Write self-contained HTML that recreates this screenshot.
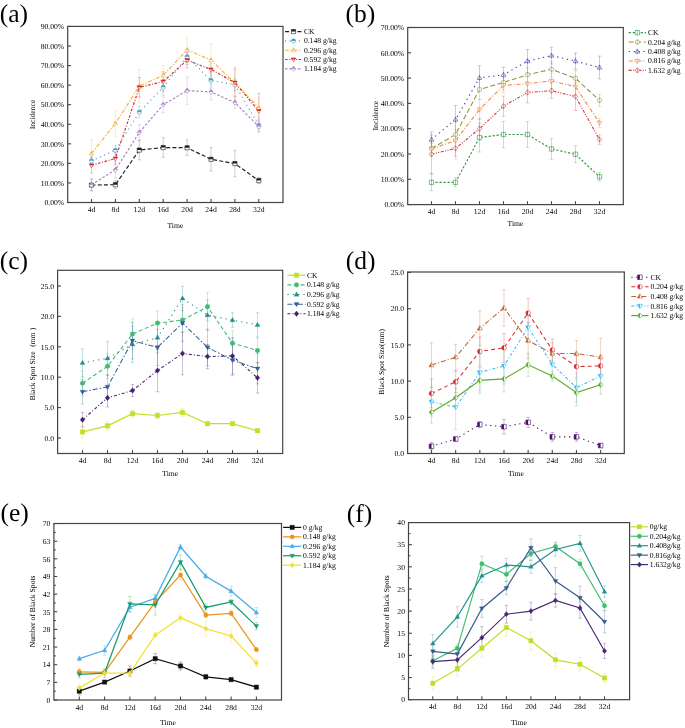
<!DOCTYPE html>
<html><head><meta charset="utf-8"><style>
html,body{margin:0;padding:0;background:#fff;}
svg{display:block;will-change:transform;}
</style></head><body>
<svg width="685" height="728" viewBox="0 0 685 728" font-family='"Liberation Serif", serif' font-size="7.65" fill="#000" text-rendering="geometricPrecision">
<defs>
<clipPath id="clipTop" clipPathUnits="userSpaceOnUse"><rect x="-10" y="-10" width="20" height="10"/></clipPath>
<clipPath id="clipLeft" clipPathUnits="userSpaceOnUse"><rect x="-10" y="-10" width="10" height="20"/></clipPath>
</defs>
<rect width="685" height="728" fill="#fff"/>
<g><path d="M91.50,179.22V190.96M89.90,179.22H93.10M89.90,190.96H93.10" stroke="#555" stroke-width="0.5" fill="none" opacity="0.55"/>
<path d="M115.40,180.79V188.61M113.80,180.79H117.00M113.80,188.61H117.00" stroke="#555" stroke-width="0.5" fill="none" opacity="0.55"/>
<path d="M139.30,140.30V159.86M137.70,140.30H140.90M137.70,159.86H140.90" stroke="#555" stroke-width="0.5" fill="none" opacity="0.55"/>
<path d="M163.20,137.76V157.32M161.60,137.76H164.80M161.60,157.32H164.80" stroke="#555" stroke-width="0.5" fill="none" opacity="0.55"/>
<path d="M187.10,139.91V155.56M185.50,139.91H188.70M185.50,155.56H188.70" stroke="#555" stroke-width="0.5" fill="none" opacity="0.55"/>
<path d="M211.00,147.54V171.01M209.40,147.54H212.60M209.40,171.01H212.60" stroke="#555" stroke-width="0.5" fill="none" opacity="0.55"/>
<path d="M234.90,150.27V176.88M233.30,150.27H236.50M233.30,176.88H236.50" stroke="#555" stroke-width="0.5" fill="none" opacity="0.55"/>
<path d="M258.80,177.46V183.72M257.20,177.46H260.40M257.20,183.72H260.40" stroke="#555" stroke-width="0.5" fill="none" opacity="0.55"/>
<path d="M91.50,155.95V165.73M89.90,155.95H93.10M89.90,165.73H93.10" stroke="#4b9dca" stroke-width="0.5" fill="none" opacity="0.55"/>
<path d="M115.40,145.38V155.16M113.80,145.38H117.00M113.80,155.16H117.00" stroke="#4b9dca" stroke-width="0.5" fill="none" opacity="0.55"/>
<path d="M139.30,106.26V118.00M137.70,106.26H140.90M137.70,118.00H140.90" stroke="#4b9dca" stroke-width="0.5" fill="none" opacity="0.55"/>
<path d="M163.20,79.47V95.12M161.60,79.47H164.80M161.60,95.12H164.80" stroke="#4b9dca" stroke-width="0.5" fill="none" opacity="0.55"/>
<path d="M187.10,48.95V64.60M185.50,48.95H188.70M185.50,64.60H188.70" stroke="#4b9dca" stroke-width="0.5" fill="none" opacity="0.55"/>
<path d="M211.00,72.62V88.27M209.40,72.62H212.60M209.40,88.27H212.60" stroke="#4b9dca" stroke-width="0.5" fill="none" opacity="0.55"/>
<path d="M234.90,78.88V90.62M233.30,78.88H236.50M233.30,90.62H236.50" stroke="#4b9dca" stroke-width="0.5" fill="none" opacity="0.55"/>
<path d="M258.80,119.57V131.30M257.20,119.57H260.40M257.20,131.30H260.40" stroke="#4b9dca" stroke-width="0.5" fill="none" opacity="0.55"/>
<path d="M91.50,139.71V167.10M89.90,139.71H93.10M89.90,167.10H93.10" stroke="#f5b53a" stroke-width="0.5" fill="none" opacity="0.55"/>
<path d="M115.40,110.76V136.19M113.80,110.76H117.00M113.80,136.19H117.00" stroke="#f5b53a" stroke-width="0.5" fill="none" opacity="0.55"/>
<path d="M139.30,69.49V102.74M137.70,69.49H140.90M137.70,102.74H140.90" stroke="#f5b53a" stroke-width="0.5" fill="none" opacity="0.55"/>
<path d="M163.20,65.58V85.14M161.60,65.58H164.80M161.60,85.14H164.80" stroke="#f5b53a" stroke-width="0.5" fill="none" opacity="0.55"/>
<path d="M187.10,38.20V61.67M185.50,38.20H188.70M185.50,61.67H188.70" stroke="#f5b53a" stroke-width="0.5" fill="none" opacity="0.55"/>
<path d="M211.00,43.48V76.73M209.40,43.48H212.60M209.40,76.73H212.60" stroke="#f5b53a" stroke-width="0.5" fill="none" opacity="0.55"/>
<path d="M234.90,66.75V99.61M233.30,66.75H236.50M233.30,99.61H236.50" stroke="#f5b53a" stroke-width="0.5" fill="none" opacity="0.55"/>
<path d="M258.80,97.85V117.41M257.20,97.85H260.40M257.20,117.41H260.40" stroke="#f5b53a" stroke-width="0.5" fill="none" opacity="0.55"/>
<path d="M91.50,157.51V173.16M89.90,157.51H93.10M89.90,173.16H93.10" stroke="#d42a2c" stroke-width="0.5" fill="none" opacity="0.55"/>
<path d="M115.40,152.62V164.36M113.80,152.62H117.00M113.80,164.36H117.00" stroke="#d42a2c" stroke-width="0.5" fill="none" opacity="0.55"/>
<path d="M139.30,77.51V97.07M137.70,77.51H140.90M137.70,97.07H140.90" stroke="#d42a2c" stroke-width="0.5" fill="none" opacity="0.55"/>
<path d="M163.20,71.84V91.40M161.60,71.84H164.80M161.60,91.40H164.80" stroke="#d42a2c" stroke-width="0.5" fill="none" opacity="0.55"/>
<path d="M187.10,52.28V67.93M185.50,52.28H188.70M185.50,67.93H188.70" stroke="#d42a2c" stroke-width="0.5" fill="none" opacity="0.55"/>
<path d="M211.00,59.71V79.27M209.40,59.71H212.60M209.40,79.27H212.60" stroke="#d42a2c" stroke-width="0.5" fill="none" opacity="0.55"/>
<path d="M234.90,68.91V96.29M233.30,68.91H236.50M233.30,96.29H236.50" stroke="#d42a2c" stroke-width="0.5" fill="none" opacity="0.55"/>
<path d="M258.80,93.36V128.56M257.20,93.36H260.40M257.20,128.56H260.40" stroke="#d42a2c" stroke-width="0.5" fill="none" opacity="0.55"/>
<path d="M91.50,178.83V190.57M89.90,178.83H93.10M89.90,190.57H93.10" stroke="#a680c6" stroke-width="0.5" fill="none" opacity="0.55"/>
<path d="M115.40,162.01V177.66M113.80,162.01H117.00M113.80,177.66H117.00" stroke="#a680c6" stroke-width="0.5" fill="none" opacity="0.55"/>
<path d="M139.30,124.65V140.30M137.70,124.65H140.90M137.70,140.30H140.90" stroke="#a680c6" stroke-width="0.5" fill="none" opacity="0.55"/>
<path d="M163.20,96.88V112.52M161.60,96.88H164.80M161.60,112.52H164.80" stroke="#a680c6" stroke-width="0.5" fill="none" opacity="0.55"/>
<path d="M187.10,76.92V104.31M185.50,76.92H188.70M185.50,104.31H188.70" stroke="#a680c6" stroke-width="0.5" fill="none" opacity="0.55"/>
<path d="M211.00,84.16V99.81M209.40,84.16H212.60M209.40,99.81H212.60" stroke="#a680c6" stroke-width="0.5" fill="none" opacity="0.55"/>
<path d="M234.90,96.68V108.42M233.30,96.68H236.50M233.30,108.42H236.50" stroke="#a680c6" stroke-width="0.5" fill="none" opacity="0.55"/>
<path d="M258.80,120.74V132.48M257.20,120.74H260.40M257.20,132.48H260.40" stroke="#a680c6" stroke-width="0.5" fill="none" opacity="0.55"/>
<polyline points="91.50,185.09 115.40,184.70 139.30,150.08 163.20,147.54 187.10,147.73 211.00,159.27 234.90,163.58 258.80,180.59" fill="none" stroke="#1e1e1e" stroke-width="1.15" stroke-dasharray="4,2.2"/>
<g transform="translate(91.50,185.09)"><path d="M-2.1,-2.1H2.1V2.1H-2.1Z" fill="#fff" stroke="#1e1e1e" stroke-width="0.6"/><path d="M-2.1,-2.1H2.1V2.1H-2.1Z" fill="#1e1e1e" clip-path="url(#clipTop)"/></g>
<g transform="translate(115.40,184.70)"><path d="M-2.1,-2.1H2.1V2.1H-2.1Z" fill="#fff" stroke="#1e1e1e" stroke-width="0.6"/><path d="M-2.1,-2.1H2.1V2.1H-2.1Z" fill="#1e1e1e" clip-path="url(#clipTop)"/></g>
<g transform="translate(139.30,150.08)"><path d="M-2.1,-2.1H2.1V2.1H-2.1Z" fill="#fff" stroke="#1e1e1e" stroke-width="0.6"/><path d="M-2.1,-2.1H2.1V2.1H-2.1Z" fill="#1e1e1e" clip-path="url(#clipTop)"/></g>
<g transform="translate(163.20,147.54)"><path d="M-2.1,-2.1H2.1V2.1H-2.1Z" fill="#fff" stroke="#1e1e1e" stroke-width="0.6"/><path d="M-2.1,-2.1H2.1V2.1H-2.1Z" fill="#1e1e1e" clip-path="url(#clipTop)"/></g>
<g transform="translate(187.10,147.73)"><path d="M-2.1,-2.1H2.1V2.1H-2.1Z" fill="#fff" stroke="#1e1e1e" stroke-width="0.6"/><path d="M-2.1,-2.1H2.1V2.1H-2.1Z" fill="#1e1e1e" clip-path="url(#clipTop)"/></g>
<g transform="translate(211.00,159.27)"><path d="M-2.1,-2.1H2.1V2.1H-2.1Z" fill="#fff" stroke="#1e1e1e" stroke-width="0.6"/><path d="M-2.1,-2.1H2.1V2.1H-2.1Z" fill="#1e1e1e" clip-path="url(#clipTop)"/></g>
<g transform="translate(234.90,163.58)"><path d="M-2.1,-2.1H2.1V2.1H-2.1Z" fill="#fff" stroke="#1e1e1e" stroke-width="0.6"/><path d="M-2.1,-2.1H2.1V2.1H-2.1Z" fill="#1e1e1e" clip-path="url(#clipTop)"/></g>
<g transform="translate(258.80,180.59)"><path d="M-2.1,-2.1H2.1V2.1H-2.1Z" fill="#fff" stroke="#1e1e1e" stroke-width="0.6"/><path d="M-2.1,-2.1H2.1V2.1H-2.1Z" fill="#1e1e1e" clip-path="url(#clipTop)"/></g>
<polyline points="91.50,160.84 115.40,150.27 139.30,112.13 163.20,87.29 187.10,56.78 211.00,80.45 234.90,84.75 258.80,125.43" fill="none" stroke="#4b9dca" stroke-width="1.15" stroke-dasharray="1.1,3.5"/>
<g transform="translate(91.50,160.84)"><path d="M-2.1,0A2.1,2.1 0 1,0 2.1,0A2.1,2.1 0 1,0 -2.1,0Z" fill="#fff" stroke="#4b9dca" stroke-width="0.6"/><path d="M-2.1,0A2.1,2.1 0 1,0 2.1,0A2.1,2.1 0 1,0 -2.1,0Z" fill="#4b9dca" clip-path="url(#clipTop)"/></g>
<g transform="translate(115.40,150.27)"><path d="M-2.1,0A2.1,2.1 0 1,0 2.1,0A2.1,2.1 0 1,0 -2.1,0Z" fill="#fff" stroke="#4b9dca" stroke-width="0.6"/><path d="M-2.1,0A2.1,2.1 0 1,0 2.1,0A2.1,2.1 0 1,0 -2.1,0Z" fill="#4b9dca" clip-path="url(#clipTop)"/></g>
<g transform="translate(139.30,112.13)"><path d="M-2.1,0A2.1,2.1 0 1,0 2.1,0A2.1,2.1 0 1,0 -2.1,0Z" fill="#fff" stroke="#4b9dca" stroke-width="0.6"/><path d="M-2.1,0A2.1,2.1 0 1,0 2.1,0A2.1,2.1 0 1,0 -2.1,0Z" fill="#4b9dca" clip-path="url(#clipTop)"/></g>
<g transform="translate(163.20,87.29)"><path d="M-2.1,0A2.1,2.1 0 1,0 2.1,0A2.1,2.1 0 1,0 -2.1,0Z" fill="#fff" stroke="#4b9dca" stroke-width="0.6"/><path d="M-2.1,0A2.1,2.1 0 1,0 2.1,0A2.1,2.1 0 1,0 -2.1,0Z" fill="#4b9dca" clip-path="url(#clipTop)"/></g>
<g transform="translate(187.10,56.78)"><path d="M-2.1,0A2.1,2.1 0 1,0 2.1,0A2.1,2.1 0 1,0 -2.1,0Z" fill="#fff" stroke="#4b9dca" stroke-width="0.6"/><path d="M-2.1,0A2.1,2.1 0 1,0 2.1,0A2.1,2.1 0 1,0 -2.1,0Z" fill="#4b9dca" clip-path="url(#clipTop)"/></g>
<g transform="translate(211.00,80.45)"><path d="M-2.1,0A2.1,2.1 0 1,0 2.1,0A2.1,2.1 0 1,0 -2.1,0Z" fill="#fff" stroke="#4b9dca" stroke-width="0.6"/><path d="M-2.1,0A2.1,2.1 0 1,0 2.1,0A2.1,2.1 0 1,0 -2.1,0Z" fill="#4b9dca" clip-path="url(#clipTop)"/></g>
<g transform="translate(234.90,84.75)"><path d="M-2.1,0A2.1,2.1 0 1,0 2.1,0A2.1,2.1 0 1,0 -2.1,0Z" fill="#fff" stroke="#4b9dca" stroke-width="0.6"/><path d="M-2.1,0A2.1,2.1 0 1,0 2.1,0A2.1,2.1 0 1,0 -2.1,0Z" fill="#4b9dca" clip-path="url(#clipTop)"/></g>
<g transform="translate(258.80,125.43)"><path d="M-2.1,0A2.1,2.1 0 1,0 2.1,0A2.1,2.1 0 1,0 -2.1,0Z" fill="#fff" stroke="#4b9dca" stroke-width="0.6"/><path d="M-2.1,0A2.1,2.1 0 1,0 2.1,0A2.1,2.1 0 1,0 -2.1,0Z" fill="#4b9dca" clip-path="url(#clipTop)"/></g>
<polyline points="91.50,153.40 115.40,123.48 139.30,86.12 163.20,75.36 187.10,49.93 211.00,60.10 234.90,83.18 258.80,107.63" fill="none" stroke="#f5b53a" stroke-width="1.15" stroke-dasharray="4,1.6,1.2,1.6"/>
<g transform="translate(91.50,153.40)"><path d="M0,-2.415L2.29425,1.4973L-2.29425,1.4973Z" fill="#fff" stroke="#f5b53a" stroke-width="0.6"/><path d="M0,-2.415L2.29425,1.4973L-2.29425,1.4973Z" fill="#f5b53a" clip-path="url(#clipTop)"/></g>
<g transform="translate(115.40,123.48)"><path d="M0,-2.415L2.29425,1.4973L-2.29425,1.4973Z" fill="#fff" stroke="#f5b53a" stroke-width="0.6"/><path d="M0,-2.415L2.29425,1.4973L-2.29425,1.4973Z" fill="#f5b53a" clip-path="url(#clipTop)"/></g>
<g transform="translate(139.30,86.12)"><path d="M0,-2.415L2.29425,1.4973L-2.29425,1.4973Z" fill="#fff" stroke="#f5b53a" stroke-width="0.6"/><path d="M0,-2.415L2.29425,1.4973L-2.29425,1.4973Z" fill="#f5b53a" clip-path="url(#clipTop)"/></g>
<g transform="translate(163.20,75.36)"><path d="M0,-2.415L2.29425,1.4973L-2.29425,1.4973Z" fill="#fff" stroke="#f5b53a" stroke-width="0.6"/><path d="M0,-2.415L2.29425,1.4973L-2.29425,1.4973Z" fill="#f5b53a" clip-path="url(#clipTop)"/></g>
<g transform="translate(187.10,49.93)"><path d="M0,-2.415L2.29425,1.4973L-2.29425,1.4973Z" fill="#fff" stroke="#f5b53a" stroke-width="0.6"/><path d="M0,-2.415L2.29425,1.4973L-2.29425,1.4973Z" fill="#f5b53a" clip-path="url(#clipTop)"/></g>
<g transform="translate(211.00,60.10)"><path d="M0,-2.415L2.29425,1.4973L-2.29425,1.4973Z" fill="#fff" stroke="#f5b53a" stroke-width="0.6"/><path d="M0,-2.415L2.29425,1.4973L-2.29425,1.4973Z" fill="#f5b53a" clip-path="url(#clipTop)"/></g>
<g transform="translate(234.90,83.18)"><path d="M0,-2.415L2.29425,1.4973L-2.29425,1.4973Z" fill="#fff" stroke="#f5b53a" stroke-width="0.6"/><path d="M0,-2.415L2.29425,1.4973L-2.29425,1.4973Z" fill="#f5b53a" clip-path="url(#clipTop)"/></g>
<g transform="translate(258.80,107.63)"><path d="M0,-2.415L2.29425,1.4973L-2.29425,1.4973Z" fill="#fff" stroke="#f5b53a" stroke-width="0.6"/><path d="M0,-2.415L2.29425,1.4973L-2.29425,1.4973Z" fill="#f5b53a" clip-path="url(#clipTop)"/></g>
<polyline points="91.50,165.34 115.40,158.49 139.30,87.29 163.20,81.62 187.10,60.10 211.00,69.49 234.90,82.60 258.80,110.96" fill="none" stroke="#d42a2c" stroke-width="1.15" stroke-dasharray="2.6,1.6,1,1.6"/>
<g transform="translate(91.50,165.34)"><path d="M0,2.415L2.29425,-1.4973L-2.29425,-1.4973Z" fill="#fff" stroke="#d42a2c" stroke-width="0.6"/><path d="M0,2.415L2.29425,-1.4973L-2.29425,-1.4973Z" fill="#d42a2c" clip-path="url(#clipTop)"/></g>
<g transform="translate(115.40,158.49)"><path d="M0,2.415L2.29425,-1.4973L-2.29425,-1.4973Z" fill="#fff" stroke="#d42a2c" stroke-width="0.6"/><path d="M0,2.415L2.29425,-1.4973L-2.29425,-1.4973Z" fill="#d42a2c" clip-path="url(#clipTop)"/></g>
<g transform="translate(139.30,87.29)"><path d="M0,2.415L2.29425,-1.4973L-2.29425,-1.4973Z" fill="#fff" stroke="#d42a2c" stroke-width="0.6"/><path d="M0,2.415L2.29425,-1.4973L-2.29425,-1.4973Z" fill="#d42a2c" clip-path="url(#clipTop)"/></g>
<g transform="translate(163.20,81.62)"><path d="M0,2.415L2.29425,-1.4973L-2.29425,-1.4973Z" fill="#fff" stroke="#d42a2c" stroke-width="0.6"/><path d="M0,2.415L2.29425,-1.4973L-2.29425,-1.4973Z" fill="#d42a2c" clip-path="url(#clipTop)"/></g>
<g transform="translate(187.10,60.10)"><path d="M0,2.415L2.29425,-1.4973L-2.29425,-1.4973Z" fill="#fff" stroke="#d42a2c" stroke-width="0.6"/><path d="M0,2.415L2.29425,-1.4973L-2.29425,-1.4973Z" fill="#d42a2c" clip-path="url(#clipTop)"/></g>
<g transform="translate(211.00,69.49)"><path d="M0,2.415L2.29425,-1.4973L-2.29425,-1.4973Z" fill="#fff" stroke="#d42a2c" stroke-width="0.6"/><path d="M0,2.415L2.29425,-1.4973L-2.29425,-1.4973Z" fill="#d42a2c" clip-path="url(#clipTop)"/></g>
<g transform="translate(234.90,82.60)"><path d="M0,2.415L2.29425,-1.4973L-2.29425,-1.4973Z" fill="#fff" stroke="#d42a2c" stroke-width="0.6"/><path d="M0,2.415L2.29425,-1.4973L-2.29425,-1.4973Z" fill="#d42a2c" clip-path="url(#clipTop)"/></g>
<g transform="translate(258.80,110.96)"><path d="M0,2.415L2.29425,-1.4973L-2.29425,-1.4973Z" fill="#fff" stroke="#d42a2c" stroke-width="0.6"/><path d="M0,2.415L2.29425,-1.4973L-2.29425,-1.4973Z" fill="#d42a2c" clip-path="url(#clipTop)"/></g>
<polyline points="91.50,184.70 115.40,169.83 139.30,132.48 163.20,104.70 187.10,90.62 211.00,91.99 234.90,102.55 258.80,126.61" fill="none" stroke="#a680c6" stroke-width="1.15" stroke-dasharray="2.5,1.8"/>
<g transform="translate(91.50,184.70)"><path d="M0,-2.52L2.142,0L0,2.52L-2.142,0Z" fill="#fff" stroke="#a680c6" stroke-width="0.6"/><path d="M0,-2.52L2.142,0L0,2.52L-2.142,0Z" fill="#a680c6" clip-path="url(#clipTop)"/></g>
<g transform="translate(115.40,169.83)"><path d="M0,-2.52L2.142,0L0,2.52L-2.142,0Z" fill="#fff" stroke="#a680c6" stroke-width="0.6"/><path d="M0,-2.52L2.142,0L0,2.52L-2.142,0Z" fill="#a680c6" clip-path="url(#clipTop)"/></g>
<g transform="translate(139.30,132.48)"><path d="M0,-2.52L2.142,0L0,2.52L-2.142,0Z" fill="#fff" stroke="#a680c6" stroke-width="0.6"/><path d="M0,-2.52L2.142,0L0,2.52L-2.142,0Z" fill="#a680c6" clip-path="url(#clipTop)"/></g>
<g transform="translate(163.20,104.70)"><path d="M0,-2.52L2.142,0L0,2.52L-2.142,0Z" fill="#fff" stroke="#a680c6" stroke-width="0.6"/><path d="M0,-2.52L2.142,0L0,2.52L-2.142,0Z" fill="#a680c6" clip-path="url(#clipTop)"/></g>
<g transform="translate(187.10,90.62)"><path d="M0,-2.52L2.142,0L0,2.52L-2.142,0Z" fill="#fff" stroke="#a680c6" stroke-width="0.6"/><path d="M0,-2.52L2.142,0L0,2.52L-2.142,0Z" fill="#a680c6" clip-path="url(#clipTop)"/></g>
<g transform="translate(211.00,91.99)"><path d="M0,-2.52L2.142,0L0,2.52L-2.142,0Z" fill="#fff" stroke="#a680c6" stroke-width="0.6"/><path d="M0,-2.52L2.142,0L0,2.52L-2.142,0Z" fill="#a680c6" clip-path="url(#clipTop)"/></g>
<g transform="translate(234.90,102.55)"><path d="M0,-2.52L2.142,0L0,2.52L-2.142,0Z" fill="#fff" stroke="#a680c6" stroke-width="0.6"/><path d="M0,-2.52L2.142,0L0,2.52L-2.142,0Z" fill="#a680c6" clip-path="url(#clipTop)"/></g>
<g transform="translate(258.80,126.61)"><path d="M0,-2.52L2.142,0L0,2.52L-2.142,0Z" fill="#fff" stroke="#a680c6" stroke-width="0.6"/><path d="M0,-2.52L2.142,0L0,2.52L-2.142,0Z" fill="#a680c6" clip-path="url(#clipTop)"/></g>
<rect x="67.7" y="26.4" width="215.3" height="176.1" fill="none" stroke="#444" stroke-width="1.2"/>
<path d="M67.7,202.50H71.10000000000001" stroke="#444" stroke-width="1.08"/>
<text x="64.20" y="205.25" text-anchor="end">0.00%</text>
<path d="M67.7,182.94H71.10000000000001" stroke="#444" stroke-width="1.08"/>
<text x="64.20" y="185.69" text-anchor="end">10.00%</text>
<path d="M67.7,163.38H71.10000000000001" stroke="#444" stroke-width="1.08"/>
<text x="64.20" y="166.13" text-anchor="end">20.00%</text>
<path d="M67.7,143.82H71.10000000000001" stroke="#444" stroke-width="1.08"/>
<text x="64.20" y="146.57" text-anchor="end">30.00%</text>
<path d="M67.7,124.26H71.10000000000001" stroke="#444" stroke-width="1.08"/>
<text x="64.20" y="127.01" text-anchor="end">40.00%</text>
<path d="M67.7,104.70H71.10000000000001" stroke="#444" stroke-width="1.08"/>
<text x="64.20" y="107.45" text-anchor="end">50.00%</text>
<path d="M67.7,85.14H71.10000000000001" stroke="#444" stroke-width="1.08"/>
<text x="64.20" y="87.89" text-anchor="end">60.00%</text>
<path d="M67.7,65.58H71.10000000000001" stroke="#444" stroke-width="1.08"/>
<text x="64.20" y="68.33" text-anchor="end">70.00%</text>
<path d="M67.7,46.02H71.10000000000001" stroke="#444" stroke-width="1.08"/>
<text x="64.20" y="48.77" text-anchor="end">80.00%</text>
<path d="M67.7,26.46H71.10000000000001" stroke="#444" stroke-width="1.08"/>
<text x="64.20" y="29.21" text-anchor="end">90.00%</text>
<path d="M91.50,202.5V199.1" stroke="#444" stroke-width="1.08"/>
<text x="91.50" y="212.00" text-anchor="middle">4d</text>
<path d="M115.40,202.5V199.1" stroke="#444" stroke-width="1.08"/>
<text x="115.40" y="212.00" text-anchor="middle">8d</text>
<path d="M139.30,202.5V199.1" stroke="#444" stroke-width="1.08"/>
<text x="139.30" y="212.00" text-anchor="middle">12d</text>
<path d="M163.20,202.5V199.1" stroke="#444" stroke-width="1.08"/>
<text x="163.20" y="212.00" text-anchor="middle">16d</text>
<path d="M187.10,202.5V199.1" stroke="#444" stroke-width="1.08"/>
<text x="187.10" y="212.00" text-anchor="middle">20d</text>
<path d="M211.00,202.5V199.1" stroke="#444" stroke-width="1.08"/>
<text x="211.00" y="212.00" text-anchor="middle">24d</text>
<path d="M234.90,202.5V199.1" stroke="#444" stroke-width="1.08"/>
<text x="234.90" y="212.00" text-anchor="middle">28d</text>
<path d="M258.80,202.5V199.1" stroke="#444" stroke-width="1.08"/>
<text x="258.80" y="212.00" text-anchor="middle">32d</text>
<text x="175.4" y="227.5" text-anchor="middle">Time</text>
<text transform="translate(34.5,114.5) rotate(-90)" text-anchor="middle" font-size="7.65">Incidence</text>
<text x="-0.3" y="22" font-size="25.5">(a)</text>
<path d="M285,31.60H302" stroke="#1e1e1e" stroke-width="1.15" stroke-dasharray="4,2.2"/>
<g transform="translate(293.50,31.60)"><path d="M-2.1,-2.1H2.1V2.1H-2.1Z" fill="#fff" stroke="#1e1e1e" stroke-width="0.6"/><path d="M-2.1,-2.1H2.1V2.1H-2.1Z" fill="#1e1e1e" clip-path="url(#clipTop)"/></g>
<text x="303.9" y="34.12">CK</text>
<path d="M285,40.90H302" stroke="#4b9dca" stroke-width="1.15" stroke-dasharray="1.1,3.5"/>
<g transform="translate(293.50,40.90)"><path d="M-2.1,0A2.1,2.1 0 1,0 2.1,0A2.1,2.1 0 1,0 -2.1,0Z" fill="#fff" stroke="#4b9dca" stroke-width="0.6"/><path d="M-2.1,0A2.1,2.1 0 1,0 2.1,0A2.1,2.1 0 1,0 -2.1,0Z" fill="#4b9dca" clip-path="url(#clipTop)"/></g>
<text x="303.9" y="43.42">0.148 g/kg</text>
<path d="M285,50.20H302" stroke="#f5b53a" stroke-width="1.15" stroke-dasharray="4,1.6,1.2,1.6"/>
<g transform="translate(293.50,50.20)"><path d="M0,-2.415L2.29425,1.4973L-2.29425,1.4973Z" fill="#fff" stroke="#f5b53a" stroke-width="0.6"/><path d="M0,-2.415L2.29425,1.4973L-2.29425,1.4973Z" fill="#f5b53a" clip-path="url(#clipTop)"/></g>
<text x="303.9" y="52.72">0.296 g/kg</text>
<path d="M285,59.50H302" stroke="#d42a2c" stroke-width="1.15" stroke-dasharray="2.6,1.6,1,1.6"/>
<g transform="translate(293.50,59.50)"><path d="M0,2.415L2.29425,-1.4973L-2.29425,-1.4973Z" fill="#fff" stroke="#d42a2c" stroke-width="0.6"/><path d="M0,2.415L2.29425,-1.4973L-2.29425,-1.4973Z" fill="#d42a2c" clip-path="url(#clipTop)"/></g>
<text x="303.9" y="62.02">0.592 g/kg</text>
<path d="M285,68.80H302" stroke="#a680c6" stroke-width="1.15" stroke-dasharray="2.5,1.8"/>
<g transform="translate(293.50,68.80)"><path d="M0,-2.52L2.142,0L0,2.52L-2.142,0Z" fill="#fff" stroke="#a680c6" stroke-width="0.6"/><path d="M0,-2.52L2.142,0L0,2.52L-2.142,0Z" fill="#a680c6" clip-path="url(#clipTop)"/></g>
<text x="303.9" y="71.32">1.184 g/kg</text></g>
<g><path d="M431.50,173.99V190.69M429.70,173.99H433.30M429.70,190.69H433.30" stroke="#2f9a3a" stroke-width="0.5" fill="none" opacity="0.55"/>
<path d="M455.50,177.78V186.89M453.70,177.78H457.30M453.70,186.89H457.30" stroke="#2f9a3a" stroke-width="0.5" fill="none" opacity="0.55"/>
<path d="M479.50,123.13V151.98M477.70,123.13H481.30M477.70,151.98H481.30" stroke="#2f9a3a" stroke-width="0.5" fill="none" opacity="0.55"/>
<path d="M503.50,121.36V147.68M501.70,121.36H505.30M501.70,147.68H505.30" stroke="#2f9a3a" stroke-width="0.5" fill="none" opacity="0.55"/>
<path d="M527.50,121.62V147.42M525.70,121.62H529.30M525.70,147.42H529.30" stroke="#2f9a3a" stroke-width="0.5" fill="none" opacity="0.55"/>
<path d="M551.50,138.57V159.31M549.70,138.57H553.30M549.70,159.31H553.30" stroke="#2f9a3a" stroke-width="0.5" fill="none" opacity="0.55"/>
<path d="M575.50,145.90V162.60M573.70,145.90H577.30M573.70,162.60H577.30" stroke="#2f9a3a" stroke-width="0.5" fill="none" opacity="0.55"/>
<path d="M599.50,172.47V181.07M597.70,172.47H601.30M597.70,181.07H601.30" stroke="#2f9a3a" stroke-width="0.5" fill="none" opacity="0.55"/>
<path d="M431.50,143.37V153.49M429.70,143.37H433.30M429.70,153.49H433.30" stroke="#8c9a3c" stroke-width="0.5" fill="none" opacity="0.55"/>
<path d="M455.50,129.46V139.58M453.70,129.46H457.30M453.70,139.58H457.30" stroke="#8c9a3c" stroke-width="0.5" fill="none" opacity="0.55"/>
<path d="M479.50,79.37V99.61M477.70,79.37H481.30M477.70,99.61H481.30" stroke="#8c9a3c" stroke-width="0.5" fill="none" opacity="0.55"/>
<path d="M503.50,74.81V89.99M501.70,74.81H505.30M501.70,89.99H505.30" stroke="#8c9a3c" stroke-width="0.5" fill="none" opacity="0.55"/>
<path d="M527.50,67.22V82.40M525.70,67.22H529.30M525.70,82.40H529.30" stroke="#8c9a3c" stroke-width="0.5" fill="none" opacity="0.55"/>
<path d="M551.50,61.66V76.84M549.70,61.66H553.30M549.70,76.84H553.30" stroke="#8c9a3c" stroke-width="0.5" fill="none" opacity="0.55"/>
<path d="M575.50,70.76V85.94M573.70,70.76H577.30M573.70,85.94H577.30" stroke="#8c9a3c" stroke-width="0.5" fill="none" opacity="0.55"/>
<path d="M599.50,94.29V106.44M597.70,94.29H601.30M597.70,106.44H601.30" stroke="#8c9a3c" stroke-width="0.5" fill="none" opacity="0.55"/>
<path d="M431.50,131.99V147.17M429.70,131.99H433.30M429.70,147.17H433.30" stroke="#3a3fb5" stroke-width="0.5" fill="none" opacity="0.55"/>
<path d="M455.50,105.42V133.76M453.70,105.42H457.30M453.70,133.76H457.30" stroke="#3a3fb5" stroke-width="0.5" fill="none" opacity="0.55"/>
<path d="M479.50,65.70V89.99M477.70,65.70H481.30M477.70,89.99H481.30" stroke="#3a3fb5" stroke-width="0.5" fill="none" opacity="0.55"/>
<path d="M503.50,67.22V82.40M501.70,67.22H505.30M501.70,82.40H505.30" stroke="#3a3fb5" stroke-width="0.5" fill="none" opacity="0.55"/>
<path d="M527.50,49.51V72.79M525.70,49.51H529.30M525.70,72.79H529.30" stroke="#3a3fb5" stroke-width="0.5" fill="none" opacity="0.55"/>
<path d="M551.50,47.23V63.93M549.70,47.23H553.30M549.70,63.93H553.30" stroke="#3a3fb5" stroke-width="0.5" fill="none" opacity="0.55"/>
<path d="M575.50,53.05V69.25M573.70,53.05H577.30M573.70,69.25H577.30" stroke="#3a3fb5" stroke-width="0.5" fill="none" opacity="0.55"/>
<path d="M599.50,56.09V78.86M597.70,56.09H601.30M597.70,78.86H601.30" stroke="#3a3fb5" stroke-width="0.5" fill="none" opacity="0.55"/>
<path d="M431.50,141.35V156.53M429.70,141.35H433.30M429.70,156.53H433.30" stroke="#f4883a" stroke-width="0.5" fill="none" opacity="0.55"/>
<path d="M455.50,122.12V159.06M453.70,122.12H457.30M453.70,159.06H457.30" stroke="#f4883a" stroke-width="0.5" fill="none" opacity="0.55"/>
<path d="M479.50,99.35V119.59M477.70,99.35H481.30M477.70,119.59H481.30" stroke="#f4883a" stroke-width="0.5" fill="none" opacity="0.55"/>
<path d="M503.50,77.85V93.03M501.70,77.85H505.30M501.70,93.03H505.30" stroke="#f4883a" stroke-width="0.5" fill="none" opacity="0.55"/>
<path d="M527.50,76.08V91.26M525.70,76.08H529.30M525.70,91.26H529.30" stroke="#f4883a" stroke-width="0.5" fill="none" opacity="0.55"/>
<path d="M551.50,73.29V88.47M549.70,73.29H553.30M549.70,88.47H553.30" stroke="#f4883a" stroke-width="0.5" fill="none" opacity="0.55"/>
<path d="M575.50,79.11V94.29M573.70,79.11H577.30M573.70,94.29H577.30" stroke="#f4883a" stroke-width="0.5" fill="none" opacity="0.55"/>
<path d="M599.50,118.07V127.69M597.70,118.07H601.30M597.70,127.69H601.30" stroke="#f4883a" stroke-width="0.5" fill="none" opacity="0.55"/>
<path d="M431.50,135.03V173.48M429.70,135.03H433.30M429.70,173.48H433.30" stroke="#d6332e" stroke-width="0.5" fill="none" opacity="0.55"/>
<path d="M455.50,140.84V156.02M453.70,140.84H457.30M453.70,156.02H457.30" stroke="#d6332e" stroke-width="0.5" fill="none" opacity="0.55"/>
<path d="M479.50,118.58V138.82M477.70,118.58H481.30M477.70,138.82H481.30" stroke="#d6332e" stroke-width="0.5" fill="none" opacity="0.55"/>
<path d="M503.50,96.06V116.30M501.70,96.06H505.30M501.70,116.30H505.30" stroke="#d6332e" stroke-width="0.5" fill="none" opacity="0.55"/>
<path d="M527.50,82.15V102.89M525.70,82.15H529.30M525.70,102.89H529.30" stroke="#d6332e" stroke-width="0.5" fill="none" opacity="0.55"/>
<path d="M551.50,83.16V98.34M549.70,83.16H553.30M549.70,98.34H553.30" stroke="#d6332e" stroke-width="0.5" fill="none" opacity="0.55"/>
<path d="M575.50,82.65V110.48M573.70,82.65H577.30M573.70,110.48H577.30" stroke="#d6332e" stroke-width="0.5" fill="none" opacity="0.55"/>
<path d="M599.50,134.77V144.39M597.70,134.77H601.30M597.70,144.39H601.30" stroke="#d6332e" stroke-width="0.5" fill="none" opacity="0.55"/>
<polyline points="431.50,182.34 455.50,182.34 479.50,137.56 503.50,134.52 527.50,134.52 551.50,148.94 575.50,154.25 599.50,176.77" fill="none" stroke="#2f9a3a" stroke-width="1.1" stroke-dasharray="2.2,1.8"/>
<g transform="translate(431.50,182.34)"><path d="M-2.15,-2.15H2.15V2.15H-2.15Z" fill="#fff" stroke="#2f9a3a" stroke-width="0.6"/><path d="M0,-2.67V2.67" stroke="#2f9a3a" stroke-width="0.5"/></g>
<g transform="translate(455.50,182.34)"><path d="M-2.15,-2.15H2.15V2.15H-2.15Z" fill="#fff" stroke="#2f9a3a" stroke-width="0.6"/><path d="M0,-2.67V2.67" stroke="#2f9a3a" stroke-width="0.5"/></g>
<g transform="translate(479.50,137.56)"><path d="M-2.15,-2.15H2.15V2.15H-2.15Z" fill="#fff" stroke="#2f9a3a" stroke-width="0.6"/><path d="M0,-2.67V2.67" stroke="#2f9a3a" stroke-width="0.5"/></g>
<g transform="translate(503.50,134.52)"><path d="M-2.15,-2.15H2.15V2.15H-2.15Z" fill="#fff" stroke="#2f9a3a" stroke-width="0.6"/><path d="M0,-2.67V2.67" stroke="#2f9a3a" stroke-width="0.5"/></g>
<g transform="translate(527.50,134.52)"><path d="M-2.15,-2.15H2.15V2.15H-2.15Z" fill="#fff" stroke="#2f9a3a" stroke-width="0.6"/><path d="M0,-2.67V2.67" stroke="#2f9a3a" stroke-width="0.5"/></g>
<g transform="translate(551.50,148.94)"><path d="M-2.15,-2.15H2.15V2.15H-2.15Z" fill="#fff" stroke="#2f9a3a" stroke-width="0.6"/><path d="M0,-2.67V2.67" stroke="#2f9a3a" stroke-width="0.5"/></g>
<g transform="translate(575.50,154.25)"><path d="M-2.15,-2.15H2.15V2.15H-2.15Z" fill="#fff" stroke="#2f9a3a" stroke-width="0.6"/><path d="M0,-2.67V2.67" stroke="#2f9a3a" stroke-width="0.5"/></g>
<g transform="translate(599.50,176.77)"><path d="M-2.15,-2.15H2.15V2.15H-2.15Z" fill="#fff" stroke="#2f9a3a" stroke-width="0.6"/><path d="M0,-2.67V2.67" stroke="#2f9a3a" stroke-width="0.5"/></g>
<polyline points="431.50,148.43 455.50,134.52 479.50,89.48 503.50,82.40 527.50,74.81 551.50,69.25 575.50,78.35 599.50,100.36" fill="none" stroke="#8c9a3c" stroke-width="1.1" stroke-dasharray="5,2.5"/>
<g transform="translate(431.50,148.43)"><path d="M-2.15,0A2.15,2.15 0 1,0 2.15,0A2.15,2.15 0 1,0 -2.15,0Z" fill="#fff" stroke="#8c9a3c" stroke-width="0.6"/><path d="M0,-2.67V2.67" stroke="#8c9a3c" stroke-width="0.5"/></g>
<g transform="translate(455.50,134.52)"><path d="M-2.15,0A2.15,2.15 0 1,0 2.15,0A2.15,2.15 0 1,0 -2.15,0Z" fill="#fff" stroke="#8c9a3c" stroke-width="0.6"/><path d="M0,-2.67V2.67" stroke="#8c9a3c" stroke-width="0.5"/></g>
<g transform="translate(479.50,89.48)"><path d="M-2.15,0A2.15,2.15 0 1,0 2.15,0A2.15,2.15 0 1,0 -2.15,0Z" fill="#fff" stroke="#8c9a3c" stroke-width="0.6"/><path d="M0,-2.67V2.67" stroke="#8c9a3c" stroke-width="0.5"/></g>
<g transform="translate(503.50,82.40)"><path d="M-2.15,0A2.15,2.15 0 1,0 2.15,0A2.15,2.15 0 1,0 -2.15,0Z" fill="#fff" stroke="#8c9a3c" stroke-width="0.6"/><path d="M0,-2.67V2.67" stroke="#8c9a3c" stroke-width="0.5"/></g>
<g transform="translate(527.50,74.81)"><path d="M-2.15,0A2.15,2.15 0 1,0 2.15,0A2.15,2.15 0 1,0 -2.15,0Z" fill="#fff" stroke="#8c9a3c" stroke-width="0.6"/><path d="M0,-2.67V2.67" stroke="#8c9a3c" stroke-width="0.5"/></g>
<g transform="translate(551.50,69.25)"><path d="M-2.15,0A2.15,2.15 0 1,0 2.15,0A2.15,2.15 0 1,0 -2.15,0Z" fill="#fff" stroke="#8c9a3c" stroke-width="0.6"/><path d="M0,-2.67V2.67" stroke="#8c9a3c" stroke-width="0.5"/></g>
<g transform="translate(575.50,78.35)"><path d="M-2.15,0A2.15,2.15 0 1,0 2.15,0A2.15,2.15 0 1,0 -2.15,0Z" fill="#fff" stroke="#8c9a3c" stroke-width="0.6"/><path d="M0,-2.67V2.67" stroke="#8c9a3c" stroke-width="0.5"/></g>
<g transform="translate(599.50,100.36)"><path d="M-2.15,0A2.15,2.15 0 1,0 2.15,0A2.15,2.15 0 1,0 -2.15,0Z" fill="#fff" stroke="#8c9a3c" stroke-width="0.6"/><path d="M0,-2.67V2.67" stroke="#8c9a3c" stroke-width="0.5"/></g>
<polyline points="431.50,139.58 455.50,119.59 479.50,77.85 503.50,74.81 527.50,61.15 551.50,55.58 575.50,61.15 599.50,67.47" fill="none" stroke="#3a3fb5" stroke-width="1.1" stroke-dasharray="1.3,3.6"/>
<g transform="translate(431.50,139.58)"><path d="M0,-2.4724999999999997L2.3488749999999996,1.5329499999999998L-2.3488749999999996,1.5329499999999998Z" fill="#fff" stroke="#3a3fb5" stroke-width="0.6"/><path d="M0,-2.67V2.67" stroke="#3a3fb5" stroke-width="0.5"/></g>
<g transform="translate(455.50,119.59)"><path d="M0,-2.4724999999999997L2.3488749999999996,1.5329499999999998L-2.3488749999999996,1.5329499999999998Z" fill="#fff" stroke="#3a3fb5" stroke-width="0.6"/><path d="M0,-2.67V2.67" stroke="#3a3fb5" stroke-width="0.5"/></g>
<g transform="translate(479.50,77.85)"><path d="M0,-2.4724999999999997L2.3488749999999996,1.5329499999999998L-2.3488749999999996,1.5329499999999998Z" fill="#fff" stroke="#3a3fb5" stroke-width="0.6"/><path d="M0,-2.67V2.67" stroke="#3a3fb5" stroke-width="0.5"/></g>
<g transform="translate(503.50,74.81)"><path d="M0,-2.4724999999999997L2.3488749999999996,1.5329499999999998L-2.3488749999999996,1.5329499999999998Z" fill="#fff" stroke="#3a3fb5" stroke-width="0.6"/><path d="M0,-2.67V2.67" stroke="#3a3fb5" stroke-width="0.5"/></g>
<g transform="translate(527.50,61.15)"><path d="M0,-2.4724999999999997L2.3488749999999996,1.5329499999999998L-2.3488749999999996,1.5329499999999998Z" fill="#fff" stroke="#3a3fb5" stroke-width="0.6"/><path d="M0,-2.67V2.67" stroke="#3a3fb5" stroke-width="0.5"/></g>
<g transform="translate(551.50,55.58)"><path d="M0,-2.4724999999999997L2.3488749999999996,1.5329499999999998L-2.3488749999999996,1.5329499999999998Z" fill="#fff" stroke="#3a3fb5" stroke-width="0.6"/><path d="M0,-2.67V2.67" stroke="#3a3fb5" stroke-width="0.5"/></g>
<g transform="translate(575.50,61.15)"><path d="M0,-2.4724999999999997L2.3488749999999996,1.5329499999999998L-2.3488749999999996,1.5329499999999998Z" fill="#fff" stroke="#3a3fb5" stroke-width="0.6"/><path d="M0,-2.67V2.67" stroke="#3a3fb5" stroke-width="0.5"/></g>
<g transform="translate(599.50,67.47)"><path d="M0,-2.4724999999999997L2.3488749999999996,1.5329499999999998L-2.3488749999999996,1.5329499999999998Z" fill="#fff" stroke="#3a3fb5" stroke-width="0.6"/><path d="M0,-2.67V2.67" stroke="#3a3fb5" stroke-width="0.5"/></g>
<polyline points="431.50,148.94 455.50,140.59 479.50,109.47 503.50,85.44 527.50,83.67 551.50,80.88 575.50,86.70 599.50,122.88" fill="none" stroke="#f4883a" stroke-width="1.1" stroke-dasharray="4,1.8,1,1.8"/>
<g transform="translate(431.50,148.94)"><path d="M0,2.4724999999999997L2.3488749999999996,-1.5329499999999998L-2.3488749999999996,-1.5329499999999998Z" fill="#fff" stroke="#f4883a" stroke-width="0.6"/><path d="M0,-2.67V2.67" stroke="#f4883a" stroke-width="0.5"/></g>
<g transform="translate(455.50,140.59)"><path d="M0,2.4724999999999997L2.3488749999999996,-1.5329499999999998L-2.3488749999999996,-1.5329499999999998Z" fill="#fff" stroke="#f4883a" stroke-width="0.6"/><path d="M0,-2.67V2.67" stroke="#f4883a" stroke-width="0.5"/></g>
<g transform="translate(479.50,109.47)"><path d="M0,2.4724999999999997L2.3488749999999996,-1.5329499999999998L-2.3488749999999996,-1.5329499999999998Z" fill="#fff" stroke="#f4883a" stroke-width="0.6"/><path d="M0,-2.67V2.67" stroke="#f4883a" stroke-width="0.5"/></g>
<g transform="translate(503.50,85.44)"><path d="M0,2.4724999999999997L2.3488749999999996,-1.5329499999999998L-2.3488749999999996,-1.5329499999999998Z" fill="#fff" stroke="#f4883a" stroke-width="0.6"/><path d="M0,-2.67V2.67" stroke="#f4883a" stroke-width="0.5"/></g>
<g transform="translate(527.50,83.67)"><path d="M0,2.4724999999999997L2.3488749999999996,-1.5329499999999998L-2.3488749999999996,-1.5329499999999998Z" fill="#fff" stroke="#f4883a" stroke-width="0.6"/><path d="M0,-2.67V2.67" stroke="#f4883a" stroke-width="0.5"/></g>
<g transform="translate(551.50,80.88)"><path d="M0,2.4724999999999997L2.3488749999999996,-1.5329499999999998L-2.3488749999999996,-1.5329499999999998Z" fill="#fff" stroke="#f4883a" stroke-width="0.6"/><path d="M0,-2.67V2.67" stroke="#f4883a" stroke-width="0.5"/></g>
<g transform="translate(575.50,86.70)"><path d="M0,2.4724999999999997L2.3488749999999996,-1.5329499999999998L-2.3488749999999996,-1.5329499999999998Z" fill="#fff" stroke="#f4883a" stroke-width="0.6"/><path d="M0,-2.67V2.67" stroke="#f4883a" stroke-width="0.5"/></g>
<g transform="translate(599.50,122.88)"><path d="M0,2.4724999999999997L2.3488749999999996,-1.5329499999999998L-2.3488749999999996,-1.5329499999999998Z" fill="#fff" stroke="#f4883a" stroke-width="0.6"/><path d="M0,-2.67V2.67" stroke="#f4883a" stroke-width="0.5"/></g>
<polyline points="431.50,154.25 455.50,148.43 479.50,128.70 503.50,106.18 527.50,92.52 551.50,90.75 575.50,96.57 599.50,139.58" fill="none" stroke="#d6332e" stroke-width="1.1" stroke-dasharray="3,1.5,1,1.5,1,1.5"/>
<g transform="translate(431.50,154.25)"><path d="M0,-2.5799999999999996L2.1929999999999996,0L0,2.5799999999999996L-2.1929999999999996,0Z" fill="#fff" stroke="#d6332e" stroke-width="0.6"/><path d="M0,-2.67V2.67" stroke="#d6332e" stroke-width="0.5"/></g>
<g transform="translate(455.50,148.43)"><path d="M0,-2.5799999999999996L2.1929999999999996,0L0,2.5799999999999996L-2.1929999999999996,0Z" fill="#fff" stroke="#d6332e" stroke-width="0.6"/><path d="M0,-2.67V2.67" stroke="#d6332e" stroke-width="0.5"/></g>
<g transform="translate(479.50,128.70)"><path d="M0,-2.5799999999999996L2.1929999999999996,0L0,2.5799999999999996L-2.1929999999999996,0Z" fill="#fff" stroke="#d6332e" stroke-width="0.6"/><path d="M0,-2.67V2.67" stroke="#d6332e" stroke-width="0.5"/></g>
<g transform="translate(503.50,106.18)"><path d="M0,-2.5799999999999996L2.1929999999999996,0L0,2.5799999999999996L-2.1929999999999996,0Z" fill="#fff" stroke="#d6332e" stroke-width="0.6"/><path d="M0,-2.67V2.67" stroke="#d6332e" stroke-width="0.5"/></g>
<g transform="translate(527.50,92.52)"><path d="M0,-2.5799999999999996L2.1929999999999996,0L0,2.5799999999999996L-2.1929999999999996,0Z" fill="#fff" stroke="#d6332e" stroke-width="0.6"/><path d="M0,-2.67V2.67" stroke="#d6332e" stroke-width="0.5"/></g>
<g transform="translate(551.50,90.75)"><path d="M0,-2.5799999999999996L2.1929999999999996,0L0,2.5799999999999996L-2.1929999999999996,0Z" fill="#fff" stroke="#d6332e" stroke-width="0.6"/><path d="M0,-2.67V2.67" stroke="#d6332e" stroke-width="0.5"/></g>
<g transform="translate(575.50,96.57)"><path d="M0,-2.5799999999999996L2.1929999999999996,0L0,2.5799999999999996L-2.1929999999999996,0Z" fill="#fff" stroke="#d6332e" stroke-width="0.6"/><path d="M0,-2.67V2.67" stroke="#d6332e" stroke-width="0.5"/></g>
<g transform="translate(599.50,139.58)"><path d="M0,-2.5799999999999996L2.1929999999999996,0L0,2.5799999999999996L-2.1929999999999996,0Z" fill="#fff" stroke="#d6332e" stroke-width="0.6"/><path d="M0,-2.67V2.67" stroke="#d6332e" stroke-width="0.5"/></g>
<rect x="407.7" y="27.5" width="215.59999999999997" height="177.1" fill="none" stroke="#444" stroke-width="1.2"/>
<path d="M407.7,204.60H411.09999999999997" stroke="#444" stroke-width="1.08"/>
<text x="404.20" y="207.35" text-anchor="end">0.00%</text>
<path d="M407.7,179.30H411.09999999999997" stroke="#444" stroke-width="1.08"/>
<text x="404.20" y="182.05" text-anchor="end">10.00%</text>
<path d="M407.7,154.00H411.09999999999997" stroke="#444" stroke-width="1.08"/>
<text x="404.20" y="156.75" text-anchor="end">20.00%</text>
<path d="M407.7,128.70H411.09999999999997" stroke="#444" stroke-width="1.08"/>
<text x="404.20" y="131.45" text-anchor="end">30.00%</text>
<path d="M407.7,103.40H411.09999999999997" stroke="#444" stroke-width="1.08"/>
<text x="404.20" y="106.15" text-anchor="end">40.00%</text>
<path d="M407.7,78.10H411.09999999999997" stroke="#444" stroke-width="1.08"/>
<text x="404.20" y="80.85" text-anchor="end">50.00%</text>
<path d="M407.7,52.80H411.09999999999997" stroke="#444" stroke-width="1.08"/>
<text x="404.20" y="55.55" text-anchor="end">60.00%</text>
<path d="M407.7,27.50H411.09999999999997" stroke="#444" stroke-width="1.08"/>
<text x="404.20" y="30.25" text-anchor="end">70.00%</text>
<path d="M431.50,204.6V201.2" stroke="#444" stroke-width="1.08"/>
<text x="431.50" y="214.10" text-anchor="middle">4d</text>
<path d="M455.50,204.6V201.2" stroke="#444" stroke-width="1.08"/>
<text x="455.50" y="214.10" text-anchor="middle">8d</text>
<path d="M479.50,204.6V201.2" stroke="#444" stroke-width="1.08"/>
<text x="479.50" y="214.10" text-anchor="middle">12d</text>
<path d="M503.50,204.6V201.2" stroke="#444" stroke-width="1.08"/>
<text x="503.50" y="214.10" text-anchor="middle">16d</text>
<path d="M527.50,204.6V201.2" stroke="#444" stroke-width="1.08"/>
<text x="527.50" y="214.10" text-anchor="middle">20d</text>
<path d="M551.50,204.6V201.2" stroke="#444" stroke-width="1.08"/>
<text x="551.50" y="214.10" text-anchor="middle">24d</text>
<path d="M575.50,204.6V201.2" stroke="#444" stroke-width="1.08"/>
<text x="575.50" y="214.10" text-anchor="middle">28d</text>
<path d="M599.50,204.6V201.2" stroke="#444" stroke-width="1.08"/>
<text x="599.50" y="214.10" text-anchor="middle">32d</text>
<text x="515.5" y="226" text-anchor="middle">Time</text>
<text transform="translate(377.5,115.6) rotate(-90)" text-anchor="middle" font-size="7.65">Incidence</text>
<text x="345.5" y="22" font-size="25.5">(b)</text>
<path d="M628.7,32.60H646" stroke="#2f9a3a" stroke-width="1.1" stroke-dasharray="2.2,1.8"/>
<g transform="translate(637.35,32.60)"><path d="M-2.15,-2.15H2.15V2.15H-2.15Z" fill="#fff" stroke="#2f9a3a" stroke-width="0.6"/><path d="M0,-2.67V2.67" stroke="#2f9a3a" stroke-width="0.5"/></g>
<text x="647.9" y="35.12">CK</text>
<path d="M628.7,42.05H646" stroke="#8c9a3c" stroke-width="1.1" stroke-dasharray="5,2.5"/>
<g transform="translate(637.35,42.05)"><path d="M-2.15,0A2.15,2.15 0 1,0 2.15,0A2.15,2.15 0 1,0 -2.15,0Z" fill="#fff" stroke="#8c9a3c" stroke-width="0.6"/><path d="M0,-2.67V2.67" stroke="#8c9a3c" stroke-width="0.5"/></g>
<text x="647.9" y="44.57">0.204 g/kg</text>
<path d="M628.7,51.50H646" stroke="#3a3fb5" stroke-width="1.1" stroke-dasharray="1.3,3.6"/>
<g transform="translate(637.35,51.50)"><path d="M0,-2.4724999999999997L2.3488749999999996,1.5329499999999998L-2.3488749999999996,1.5329499999999998Z" fill="#fff" stroke="#3a3fb5" stroke-width="0.6"/><path d="M0,-2.67V2.67" stroke="#3a3fb5" stroke-width="0.5"/></g>
<text x="647.9" y="54.02">0.408 g/kg</text>
<path d="M628.7,60.95H646" stroke="#f4883a" stroke-width="1.1" stroke-dasharray="4,1.8,1,1.8"/>
<g transform="translate(637.35,60.95)"><path d="M0,2.4724999999999997L2.3488749999999996,-1.5329499999999998L-2.3488749999999996,-1.5329499999999998Z" fill="#fff" stroke="#f4883a" stroke-width="0.6"/><path d="M0,-2.67V2.67" stroke="#f4883a" stroke-width="0.5"/></g>
<text x="647.9" y="63.47">0.816 g/kg</text>
<path d="M628.7,70.40H646" stroke="#d6332e" stroke-width="1.1" stroke-dasharray="3,1.5,1,1.5,1,1.5"/>
<g transform="translate(637.35,70.40)"><path d="M0,-2.5799999999999996L2.1929999999999996,0L0,2.5799999999999996L-2.1929999999999996,0Z" fill="#fff" stroke="#d6332e" stroke-width="0.6"/><path d="M0,-2.67V2.67" stroke="#d6332e" stroke-width="0.5"/></g>
<text x="647.9" y="72.92">1.632 g/kg</text></g>
<g><path d="M82.50,425.84V438.00M80.70,425.84H84.30M80.70,438.00H84.30" stroke="#c3df26" stroke-width="0.5" fill="none" opacity="0.55"/>
<path d="M107.50,421.58V430.10M105.70,421.58H109.30M105.70,430.10H109.30" stroke="#c3df26" stroke-width="0.5" fill="none" opacity="0.55"/>
<path d="M132.50,410.03V417.33M130.70,410.03H134.30M130.70,417.33H134.30" stroke="#c3df26" stroke-width="0.5" fill="none" opacity="0.55"/>
<path d="M157.50,411.86V419.15M155.70,411.86H159.30M155.70,419.15H159.30" stroke="#c3df26" stroke-width="0.5" fill="none" opacity="0.55"/>
<path d="M182.50,408.21V416.72M180.70,408.21H184.30M180.70,416.72H184.30" stroke="#c3df26" stroke-width="0.5" fill="none" opacity="0.55"/>
<path d="M207.50,421.89V425.54M205.70,421.89H209.30M205.70,425.54H209.30" stroke="#c3df26" stroke-width="0.5" fill="none" opacity="0.55"/>
<path d="M232.50,421.89V425.54M230.70,421.89H234.30M230.70,425.54H234.30" stroke="#c3df26" stroke-width="0.5" fill="none" opacity="0.55"/>
<path d="M257.50,428.88V432.53M255.70,428.88H259.30M255.70,432.53H259.30" stroke="#c3df26" stroke-width="0.5" fill="none" opacity="0.55"/>
<path d="M82.50,371.12V395.44M80.70,371.12H84.30M80.70,395.44H84.30" stroke="#3dbc74" stroke-width="0.5" fill="none" opacity="0.55"/>
<path d="M107.50,354.10V378.42M105.70,354.10H109.30M105.70,378.42H109.30" stroke="#3dbc74" stroke-width="0.5" fill="none" opacity="0.55"/>
<path d="M132.50,318.83V349.23M130.70,318.83H134.30M130.70,349.23H134.30" stroke="#3dbc74" stroke-width="0.5" fill="none" opacity="0.55"/>
<path d="M157.50,310.93V335.25M155.70,310.93H159.30M155.70,335.25H159.30" stroke="#3dbc74" stroke-width="0.5" fill="none" opacity="0.55"/>
<path d="M182.50,307.89V332.21M180.70,307.89H184.30M180.70,332.21H184.30" stroke="#3dbc74" stroke-width="0.5" fill="none" opacity="0.55"/>
<path d="M207.50,292.69V320.66M205.70,292.69H209.30M205.70,320.66H209.30" stroke="#3dbc74" stroke-width="0.5" fill="none" opacity="0.55"/>
<path d="M232.50,330.99V355.31M230.70,330.99H234.30M230.70,355.31H234.30" stroke="#3dbc74" stroke-width="0.5" fill="none" opacity="0.55"/>
<path d="M257.50,338.29V362.61M255.70,338.29H259.30M255.70,362.61H259.30" stroke="#3dbc74" stroke-width="0.5" fill="none" opacity="0.55"/>
<path d="M82.50,348.93V376.90M80.70,348.93H84.30M80.70,376.90H84.30" stroke="#21908d" stroke-width="0.5" fill="none" opacity="0.55"/>
<path d="M107.50,341.33V375.38M105.70,341.33H109.30M105.70,375.38H109.30" stroke="#21908d" stroke-width="0.5" fill="none" opacity="0.55"/>
<path d="M132.50,326.13V362.61M130.70,326.13H134.30M130.70,362.61H134.30" stroke="#21908d" stroke-width="0.5" fill="none" opacity="0.55"/>
<path d="M157.50,322.48V352.88M155.70,322.48H159.30M155.70,352.88H159.30" stroke="#21908d" stroke-width="0.5" fill="none" opacity="0.55"/>
<path d="M182.50,286.24V310.56M180.70,286.24H184.30M180.70,310.56H184.30" stroke="#21908d" stroke-width="0.5" fill="none" opacity="0.55"/>
<path d="M207.50,299.98V330.38M205.70,299.98H209.30M205.70,330.38H209.30" stroke="#21908d" stroke-width="0.5" fill="none" opacity="0.55"/>
<path d="M232.50,312.75V327.34M230.70,312.75H234.30M230.70,327.34H234.30" stroke="#21908d" stroke-width="0.5" fill="none" opacity="0.55"/>
<path d="M257.50,312.75V337.07M255.70,312.75H259.30M255.70,337.07H259.30" stroke="#21908d" stroke-width="0.5" fill="none" opacity="0.55"/>
<path d="M82.50,379.63V403.95M80.70,379.63H84.30M80.70,403.95H84.30" stroke="#335e9a" stroke-width="0.5" fill="none" opacity="0.55"/>
<path d="M107.50,374.77V399.09M105.70,374.77H109.30M105.70,399.09H109.30" stroke="#335e9a" stroke-width="0.5" fill="none" opacity="0.55"/>
<path d="M132.50,322.48V358.96M130.70,322.48H134.30M130.70,358.96H134.30" stroke="#335e9a" stroke-width="0.5" fill="none" opacity="0.55"/>
<path d="M157.50,329.17V365.65M155.70,329.17H159.30M155.70,365.65H159.30" stroke="#335e9a" stroke-width="0.5" fill="none" opacity="0.55"/>
<path d="M182.50,304.85V341.33M180.70,304.85H184.30M180.70,341.33H184.30" stroke="#335e9a" stroke-width="0.5" fill="none" opacity="0.55"/>
<path d="M207.50,329.17V365.65M205.70,329.17H209.30M205.70,365.65H209.30" stroke="#335e9a" stroke-width="0.5" fill="none" opacity="0.55"/>
<path d="M232.50,344.98V375.38M230.70,344.98H234.30M230.70,375.38H234.30" stroke="#335e9a" stroke-width="0.5" fill="none" opacity="0.55"/>
<path d="M257.50,353.49V383.89M255.70,353.49H259.30M255.70,383.89H259.30" stroke="#335e9a" stroke-width="0.5" fill="none" opacity="0.55"/>
<path d="M82.50,412.46V427.06M80.70,412.46H84.30M80.70,427.06H84.30" stroke="#45206e" stroke-width="0.5" fill="none" opacity="0.55"/>
<path d="M107.50,388.75V406.99M105.70,388.75H109.30M105.70,406.99H109.30" stroke="#45206e" stroke-width="0.5" fill="none" opacity="0.55"/>
<path d="M132.50,384.50V396.66M130.70,384.50H134.30M130.70,396.66H134.30" stroke="#45206e" stroke-width="0.5" fill="none" opacity="0.55"/>
<path d="M157.50,349.23V391.79M155.70,349.23H159.30M155.70,391.79H159.30" stroke="#45206e" stroke-width="0.5" fill="none" opacity="0.55"/>
<path d="M182.50,332.21V374.77M180.70,332.21H184.30M180.70,374.77H184.30" stroke="#45206e" stroke-width="0.5" fill="none" opacity="0.55"/>
<path d="M207.50,344.37V368.69M205.70,344.37H209.30M205.70,368.69H209.30" stroke="#45206e" stroke-width="0.5" fill="none" opacity="0.55"/>
<path d="M232.50,337.68V374.16M230.70,337.68H234.30M230.70,374.16H234.30" stroke="#45206e" stroke-width="0.5" fill="none" opacity="0.55"/>
<path d="M257.50,362.61V393.01M255.70,362.61H259.30M255.70,393.01H259.30" stroke="#45206e" stroke-width="0.5" fill="none" opacity="0.55"/>
<polyline points="82.50,431.92 107.50,425.84 132.50,413.68 157.50,415.50 182.50,412.46 207.50,423.71 232.50,423.71 257.50,430.70" fill="none" stroke="#c3df26" stroke-width="1.2"/>
<path transform="translate(82.50,431.92)" d="M-2.3,-2.3H2.3V2.3H-2.3Z" fill="#c3df26" stroke="#c3df26" stroke-width="0.3"/>
<path transform="translate(107.50,425.84)" d="M-2.3,-2.3H2.3V2.3H-2.3Z" fill="#c3df26" stroke="#c3df26" stroke-width="0.3"/>
<path transform="translate(132.50,413.68)" d="M-2.3,-2.3H2.3V2.3H-2.3Z" fill="#c3df26" stroke="#c3df26" stroke-width="0.3"/>
<path transform="translate(157.50,415.50)" d="M-2.3,-2.3H2.3V2.3H-2.3Z" fill="#c3df26" stroke="#c3df26" stroke-width="0.3"/>
<path transform="translate(182.50,412.46)" d="M-2.3,-2.3H2.3V2.3H-2.3Z" fill="#c3df26" stroke="#c3df26" stroke-width="0.3"/>
<path transform="translate(207.50,423.71)" d="M-2.3,-2.3H2.3V2.3H-2.3Z" fill="#c3df26" stroke="#c3df26" stroke-width="0.3"/>
<path transform="translate(232.50,423.71)" d="M-2.3,-2.3H2.3V2.3H-2.3Z" fill="#c3df26" stroke="#c3df26" stroke-width="0.3"/>
<path transform="translate(257.50,430.70)" d="M-2.3,-2.3H2.3V2.3H-2.3Z" fill="#c3df26" stroke="#c3df26" stroke-width="0.3"/>
<polyline points="82.50,383.28 107.50,366.26 132.50,334.03 157.50,323.09 182.50,320.05 207.50,306.67 232.50,343.15 257.50,350.45" fill="none" stroke="#3dbc74" stroke-width="1.05" stroke-dasharray="4,2.5"/>
<path transform="translate(82.50,383.28)" d="M-2.3,0A2.3,2.3 0 1,0 2.3,0A2.3,2.3 0 1,0 -2.3,0Z" fill="#3dbc74" stroke="#3dbc74" stroke-width="0.3"/>
<path transform="translate(107.50,366.26)" d="M-2.3,0A2.3,2.3 0 1,0 2.3,0A2.3,2.3 0 1,0 -2.3,0Z" fill="#3dbc74" stroke="#3dbc74" stroke-width="0.3"/>
<path transform="translate(132.50,334.03)" d="M-2.3,0A2.3,2.3 0 1,0 2.3,0A2.3,2.3 0 1,0 -2.3,0Z" fill="#3dbc74" stroke="#3dbc74" stroke-width="0.3"/>
<path transform="translate(157.50,323.09)" d="M-2.3,0A2.3,2.3 0 1,0 2.3,0A2.3,2.3 0 1,0 -2.3,0Z" fill="#3dbc74" stroke="#3dbc74" stroke-width="0.3"/>
<path transform="translate(182.50,320.05)" d="M-2.3,0A2.3,2.3 0 1,0 2.3,0A2.3,2.3 0 1,0 -2.3,0Z" fill="#3dbc74" stroke="#3dbc74" stroke-width="0.3"/>
<path transform="translate(207.50,306.67)" d="M-2.3,0A2.3,2.3 0 1,0 2.3,0A2.3,2.3 0 1,0 -2.3,0Z" fill="#3dbc74" stroke="#3dbc74" stroke-width="0.3"/>
<path transform="translate(232.50,343.15)" d="M-2.3,0A2.3,2.3 0 1,0 2.3,0A2.3,2.3 0 1,0 -2.3,0Z" fill="#3dbc74" stroke="#3dbc74" stroke-width="0.3"/>
<path transform="translate(257.50,350.45)" d="M-2.3,0A2.3,2.3 0 1,0 2.3,0A2.3,2.3 0 1,0 -2.3,0Z" fill="#3dbc74" stroke="#3dbc74" stroke-width="0.3"/>
<polyline points="82.50,362.91 107.50,358.35 132.50,344.37 157.50,337.68 182.50,298.40 207.50,315.18 232.50,320.05 257.50,324.91" fill="none" stroke="#21908d" stroke-width="1.05" stroke-dasharray="1.3,4"/>
<path transform="translate(82.50,362.91)" d="M0,-2.6449999999999996L2.5127499999999996,1.6398999999999997L-2.5127499999999996,1.6398999999999997Z" fill="#21908d" stroke="#21908d" stroke-width="0.3"/>
<path transform="translate(107.50,358.35)" d="M0,-2.6449999999999996L2.5127499999999996,1.6398999999999997L-2.5127499999999996,1.6398999999999997Z" fill="#21908d" stroke="#21908d" stroke-width="0.3"/>
<path transform="translate(132.50,344.37)" d="M0,-2.6449999999999996L2.5127499999999996,1.6398999999999997L-2.5127499999999996,1.6398999999999997Z" fill="#21908d" stroke="#21908d" stroke-width="0.3"/>
<path transform="translate(157.50,337.68)" d="M0,-2.6449999999999996L2.5127499999999996,1.6398999999999997L-2.5127499999999996,1.6398999999999997Z" fill="#21908d" stroke="#21908d" stroke-width="0.3"/>
<path transform="translate(182.50,298.40)" d="M0,-2.6449999999999996L2.5127499999999996,1.6398999999999997L-2.5127499999999996,1.6398999999999997Z" fill="#21908d" stroke="#21908d" stroke-width="0.3"/>
<path transform="translate(207.50,315.18)" d="M0,-2.6449999999999996L2.5127499999999996,1.6398999999999997L-2.5127499999999996,1.6398999999999997Z" fill="#21908d" stroke="#21908d" stroke-width="0.3"/>
<path transform="translate(232.50,320.05)" d="M0,-2.6449999999999996L2.5127499999999996,1.6398999999999997L-2.5127499999999996,1.6398999999999997Z" fill="#21908d" stroke="#21908d" stroke-width="0.3"/>
<path transform="translate(257.50,324.91)" d="M0,-2.6449999999999996L2.5127499999999996,1.6398999999999997L-2.5127499999999996,1.6398999999999997Z" fill="#21908d" stroke="#21908d" stroke-width="0.3"/>
<polyline points="82.50,391.79 107.50,386.93 132.50,340.72 157.50,347.41 182.50,323.09 207.50,347.41 232.50,360.18 257.50,368.69" fill="none" stroke="#335e9a" stroke-width="1.05" stroke-dasharray="5,2,1.5,2"/>
<path transform="translate(82.50,391.79)" d="M0,2.6449999999999996L2.5127499999999996,-1.6398999999999997L-2.5127499999999996,-1.6398999999999997Z" fill="#335e9a" stroke="#335e9a" stroke-width="0.3"/>
<path transform="translate(107.50,386.93)" d="M0,2.6449999999999996L2.5127499999999996,-1.6398999999999997L-2.5127499999999996,-1.6398999999999997Z" fill="#335e9a" stroke="#335e9a" stroke-width="0.3"/>
<path transform="translate(132.50,340.72)" d="M0,2.6449999999999996L2.5127499999999996,-1.6398999999999997L-2.5127499999999996,-1.6398999999999997Z" fill="#335e9a" stroke="#335e9a" stroke-width="0.3"/>
<path transform="translate(157.50,347.41)" d="M0,2.6449999999999996L2.5127499999999996,-1.6398999999999997L-2.5127499999999996,-1.6398999999999997Z" fill="#335e9a" stroke="#335e9a" stroke-width="0.3"/>
<path transform="translate(182.50,323.09)" d="M0,2.6449999999999996L2.5127499999999996,-1.6398999999999997L-2.5127499999999996,-1.6398999999999997Z" fill="#335e9a" stroke="#335e9a" stroke-width="0.3"/>
<path transform="translate(207.50,347.41)" d="M0,2.6449999999999996L2.5127499999999996,-1.6398999999999997L-2.5127499999999996,-1.6398999999999997Z" fill="#335e9a" stroke="#335e9a" stroke-width="0.3"/>
<path transform="translate(232.50,360.18)" d="M0,2.6449999999999996L2.5127499999999996,-1.6398999999999997L-2.5127499999999996,-1.6398999999999997Z" fill="#335e9a" stroke="#335e9a" stroke-width="0.3"/>
<path transform="translate(257.50,368.69)" d="M0,2.6449999999999996L2.5127499999999996,-1.6398999999999997L-2.5127499999999996,-1.6398999999999997Z" fill="#335e9a" stroke="#335e9a" stroke-width="0.3"/>
<polyline points="82.50,419.76 107.50,397.87 132.50,390.58 157.50,370.51 182.50,353.49 207.50,356.53 232.50,355.92 257.50,377.81" fill="none" stroke="#45206e" stroke-width="1.05" stroke-dasharray="3,2,1,2"/>
<path transform="translate(82.50,419.76)" d="M0,-2.76L2.3459999999999996,0L0,2.76L-2.3459999999999996,0Z" fill="#45206e" stroke="#45206e" stroke-width="0.3"/>
<path transform="translate(107.50,397.87)" d="M0,-2.76L2.3459999999999996,0L0,2.76L-2.3459999999999996,0Z" fill="#45206e" stroke="#45206e" stroke-width="0.3"/>
<path transform="translate(132.50,390.58)" d="M0,-2.76L2.3459999999999996,0L0,2.76L-2.3459999999999996,0Z" fill="#45206e" stroke="#45206e" stroke-width="0.3"/>
<path transform="translate(157.50,370.51)" d="M0,-2.76L2.3459999999999996,0L0,2.76L-2.3459999999999996,0Z" fill="#45206e" stroke="#45206e" stroke-width="0.3"/>
<path transform="translate(182.50,353.49)" d="M0,-2.76L2.3459999999999996,0L0,2.76L-2.3459999999999996,0Z" fill="#45206e" stroke="#45206e" stroke-width="0.3"/>
<path transform="translate(207.50,356.53)" d="M0,-2.76L2.3459999999999996,0L0,2.76L-2.3459999999999996,0Z" fill="#45206e" stroke="#45206e" stroke-width="0.3"/>
<path transform="translate(232.50,355.92)" d="M0,-2.76L2.3459999999999996,0L0,2.76L-2.3459999999999996,0Z" fill="#45206e" stroke="#45206e" stroke-width="0.3"/>
<path transform="translate(257.50,377.81)" d="M0,-2.76L2.3459999999999996,0L0,2.76L-2.3459999999999996,0Z" fill="#45206e" stroke="#45206e" stroke-width="0.3"/>
<rect x="57.6" y="270.3" width="225.1" height="183.2" fill="none" stroke="#444" stroke-width="1.2"/>
<path d="M57.6,438.00H61.0" stroke="#444" stroke-width="1.08"/>
<text x="54.10" y="440.75" text-anchor="end">0.0</text>
<path d="M57.6,407.60H61.0" stroke="#444" stroke-width="1.08"/>
<text x="54.10" y="410.35" text-anchor="end">5.0</text>
<path d="M57.6,377.20H61.0" stroke="#444" stroke-width="1.08"/>
<text x="54.10" y="379.95" text-anchor="end">10.0</text>
<path d="M57.6,346.80H61.0" stroke="#444" stroke-width="1.08"/>
<text x="54.10" y="349.55" text-anchor="end">15.0</text>
<path d="M57.6,316.40H61.0" stroke="#444" stroke-width="1.08"/>
<text x="54.10" y="319.15" text-anchor="end">20.0</text>
<path d="M57.6,286.00H61.0" stroke="#444" stroke-width="1.08"/>
<text x="54.10" y="288.75" text-anchor="end">25.0</text>
<path d="M82.50,453.5V450.1" stroke="#444" stroke-width="1.08"/>
<text x="82.50" y="463.00" text-anchor="middle">4d</text>
<path d="M107.50,453.5V450.1" stroke="#444" stroke-width="1.08"/>
<text x="107.50" y="463.00" text-anchor="middle">8d</text>
<path d="M132.50,453.5V450.1" stroke="#444" stroke-width="1.08"/>
<text x="132.50" y="463.00" text-anchor="middle">12d</text>
<path d="M157.50,453.5V450.1" stroke="#444" stroke-width="1.08"/>
<text x="157.50" y="463.00" text-anchor="middle">16d</text>
<path d="M182.50,453.5V450.1" stroke="#444" stroke-width="1.08"/>
<text x="182.50" y="463.00" text-anchor="middle">20d</text>
<path d="M207.50,453.5V450.1" stroke="#444" stroke-width="1.08"/>
<text x="207.50" y="463.00" text-anchor="middle">24d</text>
<path d="M232.50,453.5V450.1" stroke="#444" stroke-width="1.08"/>
<text x="232.50" y="463.00" text-anchor="middle">28d</text>
<path d="M257.50,453.5V450.1" stroke="#444" stroke-width="1.08"/>
<text x="257.50" y="463.00" text-anchor="middle">32d</text>
<text x="170.2" y="476.2" text-anchor="middle">Time</text>
<text transform="translate(34.5,400.2) rotate(-90)" text-anchor="start" font-size="7.65">Black Spot Size<tspan dx="4.6">(</tspan>mm<tspan dx="2">)</tspan></text>
<text x="-0.3" y="269.3" font-size="25.5">(c)</text>
<path d="M287.4,275.20H305.6" stroke="#c3df26" stroke-width="1.2"/>
<path transform="translate(296.50,275.20)" d="M-2.3,-2.3H2.3V2.3H-2.3Z" fill="#c3df26" stroke="#c3df26" stroke-width="0.3"/>
<text x="307" y="277.72">CK</text>
<path d="M287.4,284.85H305.6" stroke="#3dbc74" stroke-width="1.05" stroke-dasharray="4,2.5"/>
<path transform="translate(296.50,284.85)" d="M-2.3,0A2.3,2.3 0 1,0 2.3,0A2.3,2.3 0 1,0 -2.3,0Z" fill="#3dbc74" stroke="#3dbc74" stroke-width="0.3"/>
<text x="307" y="287.37">0.148 g/kg</text>
<path d="M287.4,294.50H305.6" stroke="#21908d" stroke-width="1.05" stroke-dasharray="1.3,4"/>
<path transform="translate(296.50,294.50)" d="M0,-2.6449999999999996L2.5127499999999996,1.6398999999999997L-2.5127499999999996,1.6398999999999997Z" fill="#21908d" stroke="#21908d" stroke-width="0.3"/>
<text x="307" y="297.02">0.296 g/kg</text>
<path d="M287.4,304.15H305.6" stroke="#335e9a" stroke-width="1.05" stroke-dasharray="5,2,1.5,2"/>
<path transform="translate(296.50,304.15)" d="M0,2.6449999999999996L2.5127499999999996,-1.6398999999999997L-2.5127499999999996,-1.6398999999999997Z" fill="#335e9a" stroke="#335e9a" stroke-width="0.3"/>
<text x="307" y="306.67">0.592 g/kg</text>
<path d="M287.4,313.80H305.6" stroke="#45206e" stroke-width="1.05" stroke-dasharray="3,2,1,2"/>
<path transform="translate(296.50,313.80)" d="M0,-2.76L2.3459999999999996,0L0,2.76L-2.3459999999999996,0Z" fill="#45206e" stroke="#45206e" stroke-width="0.3"/>
<text x="307" y="316.32">1.184 g/kg</text></g>
<g><path d="M431.50,442.64V449.88M429.70,442.64H433.30M429.70,449.88H433.30" stroke="#4a0f6e" stroke-width="0.5" fill="none" opacity="0.55"/>
<path d="M455.66,436.85V441.19M453.86,436.85H457.46M453.86,441.19H457.46" stroke="#4a0f6e" stroke-width="0.5" fill="none" opacity="0.55"/>
<path d="M479.82,421.64V427.44M478.02,421.64H481.62M478.02,427.44H481.62" stroke="#4a0f6e" stroke-width="0.5" fill="none" opacity="0.55"/>
<path d="M503.98,419.47V433.95M502.18,419.47H505.78M502.18,433.95H505.78" stroke="#4a0f6e" stroke-width="0.5" fill="none" opacity="0.55"/>
<path d="M528.14,417.30V427.44M526.34,417.30H529.94M526.34,427.44H529.94" stroke="#4a0f6e" stroke-width="0.5" fill="none" opacity="0.55"/>
<path d="M552.30,432.50V441.19M550.50,432.50H554.10M550.50,441.19H554.10" stroke="#4a0f6e" stroke-width="0.5" fill="none" opacity="0.55"/>
<path d="M576.46,432.50V441.19M574.66,432.50H578.26M574.66,441.19H578.26" stroke="#4a0f6e" stroke-width="0.5" fill="none" opacity="0.55"/>
<path d="M600.62,443.36V447.71M598.82,443.36H602.42M598.82,447.71H602.42" stroke="#4a0f6e" stroke-width="0.5" fill="none" opacity="0.55"/>
<path d="M431.50,378.93V407.89M429.70,378.93H433.30M429.70,407.89H433.30" stroke="#d9262b" stroke-width="0.5" fill="none" opacity="0.55"/>
<path d="M455.66,370.96V392.68M453.86,370.96H457.46M453.86,392.68H457.46" stroke="#d9262b" stroke-width="0.5" fill="none" opacity="0.55"/>
<path d="M479.82,336.94V365.90M478.02,336.94H481.62M478.02,365.90H481.62" stroke="#d9262b" stroke-width="0.5" fill="none" opacity="0.55"/>
<path d="M503.98,333.32V362.28M502.18,333.32H505.78M502.18,362.28H505.78" stroke="#d9262b" stroke-width="0.5" fill="none" opacity="0.55"/>
<path d="M528.14,298.56V327.52M526.34,298.56H529.94M526.34,327.52H529.94" stroke="#d9262b" stroke-width="0.5" fill="none" opacity="0.55"/>
<path d="M552.30,339.11V360.83M550.50,339.11H554.10M550.50,360.83H554.10" stroke="#d9262b" stroke-width="0.5" fill="none" opacity="0.55"/>
<path d="M576.46,355.76V377.48M574.66,355.76H578.26M574.66,377.48H578.26" stroke="#d9262b" stroke-width="0.5" fill="none" opacity="0.55"/>
<path d="M600.62,355.04V376.76M598.82,355.04H602.42M598.82,376.76H602.42" stroke="#d9262b" stroke-width="0.5" fill="none" opacity="0.55"/>
<path d="M431.50,342.73V387.62M429.70,342.73H433.30M429.70,387.62H433.30" stroke="#c4622b" stroke-width="0.5" fill="none" opacity="0.55"/>
<path d="M455.66,344.18V370.24M453.86,344.18H457.46M453.86,370.24H457.46" stroke="#c4622b" stroke-width="0.5" fill="none" opacity="0.55"/>
<path d="M479.82,310.87V345.62M478.02,310.87H481.62M478.02,345.62H481.62" stroke="#c4622b" stroke-width="0.5" fill="none" opacity="0.55"/>
<path d="M503.98,289.88V326.08M502.18,289.88H505.78M502.18,326.08H505.78" stroke="#c4622b" stroke-width="0.5" fill="none" opacity="0.55"/>
<path d="M528.14,322.46V358.66M526.34,322.46H529.94M526.34,358.66H529.94" stroke="#c4622b" stroke-width="0.5" fill="none" opacity="0.55"/>
<path d="M552.30,342.73V364.45M550.50,342.73H554.10M550.50,364.45H554.10" stroke="#c4622b" stroke-width="0.5" fill="none" opacity="0.55"/>
<path d="M576.46,340.56V366.62M574.66,340.56H578.26M574.66,366.62H578.26" stroke="#c4622b" stroke-width="0.5" fill="none" opacity="0.55"/>
<path d="M600.62,338.38V376.03M598.82,338.38H602.42M598.82,376.03H602.42" stroke="#c4622b" stroke-width="0.5" fill="none" opacity="0.55"/>
<path d="M431.50,387.25V416.21M429.70,387.25H433.30M429.70,416.21H433.30" stroke="#3cbaf0" stroke-width="0.5" fill="none" opacity="0.55"/>
<path d="M455.66,384.72V429.61M453.86,384.72H457.46M453.86,429.61H457.46" stroke="#3cbaf0" stroke-width="0.5" fill="none" opacity="0.55"/>
<path d="M479.82,354.31V390.51M478.02,354.31H481.62M478.02,390.51H481.62" stroke="#3cbaf0" stroke-width="0.5" fill="none" opacity="0.55"/>
<path d="M503.98,347.80V384.00M502.18,347.80H505.78M502.18,384.00H505.78" stroke="#3cbaf0" stroke-width="0.5" fill="none" opacity="0.55"/>
<path d="M528.14,313.04V342.00M526.34,313.04H529.94M526.34,342.00H529.94" stroke="#3cbaf0" stroke-width="0.5" fill="none" opacity="0.55"/>
<path d="M552.30,349.97V378.93M550.50,349.97H554.10M550.50,378.93H554.10" stroke="#3cbaf0" stroke-width="0.5" fill="none" opacity="0.55"/>
<path d="M576.46,373.14V402.10M574.66,373.14H578.26M574.66,402.10H578.26" stroke="#3cbaf0" stroke-width="0.5" fill="none" opacity="0.55"/>
<path d="M600.62,365.17V386.89M598.82,365.17H602.42M598.82,386.89H602.42" stroke="#3cbaf0" stroke-width="0.5" fill="none" opacity="0.55"/>
<path d="M431.50,401.37V423.09M429.70,401.37H433.30M429.70,423.09H433.30" stroke="#5aab2c" stroke-width="0.5" fill="none" opacity="0.55"/>
<path d="M455.66,388.34V407.16M453.86,388.34H457.46M453.86,407.16H457.46" stroke="#5aab2c" stroke-width="0.5" fill="none" opacity="0.55"/>
<path d="M479.82,367.34V393.41M478.02,367.34H481.62M478.02,393.41H481.62" stroke="#5aab2c" stroke-width="0.5" fill="none" opacity="0.55"/>
<path d="M503.98,365.90V391.96M502.18,365.90H505.78M502.18,391.96H505.78" stroke="#5aab2c" stroke-width="0.5" fill="none" opacity="0.55"/>
<path d="M528.14,353.23V376.39M526.34,353.23H529.94M526.34,376.39H529.94" stroke="#5aab2c" stroke-width="0.5" fill="none" opacity="0.55"/>
<path d="M552.30,370.96V381.10M550.50,370.96H554.10M550.50,381.10H554.10" stroke="#5aab2c" stroke-width="0.5" fill="none" opacity="0.55"/>
<path d="M576.46,379.65V405.72M574.66,379.65H578.26M574.66,405.72H578.26" stroke="#5aab2c" stroke-width="0.5" fill="none" opacity="0.55"/>
<path d="M600.62,375.31V394.13M598.82,375.31H602.42M598.82,394.13H602.42" stroke="#5aab2c" stroke-width="0.5" fill="none" opacity="0.55"/>
<polyline points="431.50,446.26 455.66,439.02 479.82,424.54 503.98,426.71 528.14,422.37 552.30,436.85 576.46,436.85 600.62,445.54" fill="none" stroke="#4a0f6e" stroke-width="1.05" stroke-dasharray="1.3,3.6"/>
<g transform="translate(431.50,446.26)"><path d="M-2.3,-2.3H2.3V2.3H-2.3Z" fill="#fff" stroke="#4a0f6e" stroke-width="0.6"/><path d="M-2.3,-2.3H2.3V2.3H-2.3Z" fill="#4a0f6e" clip-path="url(#clipLeft)"/></g>
<g transform="translate(455.66,439.02)"><path d="M-2.3,-2.3H2.3V2.3H-2.3Z" fill="#fff" stroke="#4a0f6e" stroke-width="0.6"/><path d="M-2.3,-2.3H2.3V2.3H-2.3Z" fill="#4a0f6e" clip-path="url(#clipLeft)"/></g>
<g transform="translate(479.82,424.54)"><path d="M-2.3,-2.3H2.3V2.3H-2.3Z" fill="#fff" stroke="#4a0f6e" stroke-width="0.6"/><path d="M-2.3,-2.3H2.3V2.3H-2.3Z" fill="#4a0f6e" clip-path="url(#clipLeft)"/></g>
<g transform="translate(503.98,426.71)"><path d="M-2.3,-2.3H2.3V2.3H-2.3Z" fill="#fff" stroke="#4a0f6e" stroke-width="0.6"/><path d="M-2.3,-2.3H2.3V2.3H-2.3Z" fill="#4a0f6e" clip-path="url(#clipLeft)"/></g>
<g transform="translate(528.14,422.37)"><path d="M-2.3,-2.3H2.3V2.3H-2.3Z" fill="#fff" stroke="#4a0f6e" stroke-width="0.6"/><path d="M-2.3,-2.3H2.3V2.3H-2.3Z" fill="#4a0f6e" clip-path="url(#clipLeft)"/></g>
<g transform="translate(552.30,436.85)"><path d="M-2.3,-2.3H2.3V2.3H-2.3Z" fill="#fff" stroke="#4a0f6e" stroke-width="0.6"/><path d="M-2.3,-2.3H2.3V2.3H-2.3Z" fill="#4a0f6e" clip-path="url(#clipLeft)"/></g>
<g transform="translate(576.46,436.85)"><path d="M-2.3,-2.3H2.3V2.3H-2.3Z" fill="#fff" stroke="#4a0f6e" stroke-width="0.6"/><path d="M-2.3,-2.3H2.3V2.3H-2.3Z" fill="#4a0f6e" clip-path="url(#clipLeft)"/></g>
<g transform="translate(600.62,445.54)"><path d="M-2.3,-2.3H2.3V2.3H-2.3Z" fill="#fff" stroke="#4a0f6e" stroke-width="0.6"/><path d="M-2.3,-2.3H2.3V2.3H-2.3Z" fill="#4a0f6e" clip-path="url(#clipLeft)"/></g>
<polyline points="431.50,393.41 455.66,381.82 479.82,351.42 503.98,347.80 528.14,313.04 552.30,349.97 576.46,366.62 600.62,365.90" fill="none" stroke="#d9262b" stroke-width="1.05" stroke-dasharray="4,3"/>
<g transform="translate(431.50,393.41)"><path d="M-2.3,0A2.3,2.3 0 1,0 2.3,0A2.3,2.3 0 1,0 -2.3,0Z" fill="#fff" stroke="#d9262b" stroke-width="0.6"/><path d="M-2.3,0A2.3,2.3 0 1,0 2.3,0A2.3,2.3 0 1,0 -2.3,0Z" fill="#d9262b" clip-path="url(#clipLeft)"/></g>
<g transform="translate(455.66,381.82)"><path d="M-2.3,0A2.3,2.3 0 1,0 2.3,0A2.3,2.3 0 1,0 -2.3,0Z" fill="#fff" stroke="#d9262b" stroke-width="0.6"/><path d="M-2.3,0A2.3,2.3 0 1,0 2.3,0A2.3,2.3 0 1,0 -2.3,0Z" fill="#d9262b" clip-path="url(#clipLeft)"/></g>
<g transform="translate(479.82,351.42)"><path d="M-2.3,0A2.3,2.3 0 1,0 2.3,0A2.3,2.3 0 1,0 -2.3,0Z" fill="#fff" stroke="#d9262b" stroke-width="0.6"/><path d="M-2.3,0A2.3,2.3 0 1,0 2.3,0A2.3,2.3 0 1,0 -2.3,0Z" fill="#d9262b" clip-path="url(#clipLeft)"/></g>
<g transform="translate(503.98,347.80)"><path d="M-2.3,0A2.3,2.3 0 1,0 2.3,0A2.3,2.3 0 1,0 -2.3,0Z" fill="#fff" stroke="#d9262b" stroke-width="0.6"/><path d="M-2.3,0A2.3,2.3 0 1,0 2.3,0A2.3,2.3 0 1,0 -2.3,0Z" fill="#d9262b" clip-path="url(#clipLeft)"/></g>
<g transform="translate(528.14,313.04)"><path d="M-2.3,0A2.3,2.3 0 1,0 2.3,0A2.3,2.3 0 1,0 -2.3,0Z" fill="#fff" stroke="#d9262b" stroke-width="0.6"/><path d="M-2.3,0A2.3,2.3 0 1,0 2.3,0A2.3,2.3 0 1,0 -2.3,0Z" fill="#d9262b" clip-path="url(#clipLeft)"/></g>
<g transform="translate(552.30,349.97)"><path d="M-2.3,0A2.3,2.3 0 1,0 2.3,0A2.3,2.3 0 1,0 -2.3,0Z" fill="#fff" stroke="#d9262b" stroke-width="0.6"/><path d="M-2.3,0A2.3,2.3 0 1,0 2.3,0A2.3,2.3 0 1,0 -2.3,0Z" fill="#d9262b" clip-path="url(#clipLeft)"/></g>
<g transform="translate(576.46,366.62)"><path d="M-2.3,0A2.3,2.3 0 1,0 2.3,0A2.3,2.3 0 1,0 -2.3,0Z" fill="#fff" stroke="#d9262b" stroke-width="0.6"/><path d="M-2.3,0A2.3,2.3 0 1,0 2.3,0A2.3,2.3 0 1,0 -2.3,0Z" fill="#d9262b" clip-path="url(#clipLeft)"/></g>
<g transform="translate(600.62,365.90)"><path d="M-2.3,0A2.3,2.3 0 1,0 2.3,0A2.3,2.3 0 1,0 -2.3,0Z" fill="#fff" stroke="#d9262b" stroke-width="0.6"/><path d="M-2.3,0A2.3,2.3 0 1,0 2.3,0A2.3,2.3 0 1,0 -2.3,0Z" fill="#d9262b" clip-path="url(#clipLeft)"/></g>
<polyline points="431.50,365.17 455.66,357.21 479.82,328.25 503.98,307.98 528.14,340.56 552.30,353.59 576.46,353.59 600.62,357.21" fill="none" stroke="#c4622b" stroke-width="1.05" stroke-dasharray="5,2,1,2"/>
<g transform="translate(431.50,365.17)"><path d="M0,-2.6449999999999996L2.5127499999999996,1.6398999999999997L-2.5127499999999996,1.6398999999999997Z" fill="#fff" stroke="#c4622b" stroke-width="0.6"/><path d="M0,-2.6449999999999996L2.5127499999999996,1.6398999999999997L-2.5127499999999996,1.6398999999999997Z" fill="#c4622b" clip-path="url(#clipLeft)"/></g>
<g transform="translate(455.66,357.21)"><path d="M0,-2.6449999999999996L2.5127499999999996,1.6398999999999997L-2.5127499999999996,1.6398999999999997Z" fill="#fff" stroke="#c4622b" stroke-width="0.6"/><path d="M0,-2.6449999999999996L2.5127499999999996,1.6398999999999997L-2.5127499999999996,1.6398999999999997Z" fill="#c4622b" clip-path="url(#clipLeft)"/></g>
<g transform="translate(479.82,328.25)"><path d="M0,-2.6449999999999996L2.5127499999999996,1.6398999999999997L-2.5127499999999996,1.6398999999999997Z" fill="#fff" stroke="#c4622b" stroke-width="0.6"/><path d="M0,-2.6449999999999996L2.5127499999999996,1.6398999999999997L-2.5127499999999996,1.6398999999999997Z" fill="#c4622b" clip-path="url(#clipLeft)"/></g>
<g transform="translate(503.98,307.98)"><path d="M0,-2.6449999999999996L2.5127499999999996,1.6398999999999997L-2.5127499999999996,1.6398999999999997Z" fill="#fff" stroke="#c4622b" stroke-width="0.6"/><path d="M0,-2.6449999999999996L2.5127499999999996,1.6398999999999997L-2.5127499999999996,1.6398999999999997Z" fill="#c4622b" clip-path="url(#clipLeft)"/></g>
<g transform="translate(528.14,340.56)"><path d="M0,-2.6449999999999996L2.5127499999999996,1.6398999999999997L-2.5127499999999996,1.6398999999999997Z" fill="#fff" stroke="#c4622b" stroke-width="0.6"/><path d="M0,-2.6449999999999996L2.5127499999999996,1.6398999999999997L-2.5127499999999996,1.6398999999999997Z" fill="#c4622b" clip-path="url(#clipLeft)"/></g>
<g transform="translate(552.30,353.59)"><path d="M0,-2.6449999999999996L2.5127499999999996,1.6398999999999997L-2.5127499999999996,1.6398999999999997Z" fill="#fff" stroke="#c4622b" stroke-width="0.6"/><path d="M0,-2.6449999999999996L2.5127499999999996,1.6398999999999997L-2.5127499999999996,1.6398999999999997Z" fill="#c4622b" clip-path="url(#clipLeft)"/></g>
<g transform="translate(576.46,353.59)"><path d="M0,-2.6449999999999996L2.5127499999999996,1.6398999999999997L-2.5127499999999996,1.6398999999999997Z" fill="#fff" stroke="#c4622b" stroke-width="0.6"/><path d="M0,-2.6449999999999996L2.5127499999999996,1.6398999999999997L-2.5127499999999996,1.6398999999999997Z" fill="#c4622b" clip-path="url(#clipLeft)"/></g>
<g transform="translate(600.62,357.21)"><path d="M0,-2.6449999999999996L2.5127499999999996,1.6398999999999997L-2.5127499999999996,1.6398999999999997Z" fill="#fff" stroke="#c4622b" stroke-width="0.6"/><path d="M0,-2.6449999999999996L2.5127499999999996,1.6398999999999997L-2.5127499999999996,1.6398999999999997Z" fill="#c4622b" clip-path="url(#clipLeft)"/></g>
<polyline points="431.50,401.73 455.66,407.16 479.82,372.41 503.98,365.90 528.14,327.52 552.30,364.45 576.46,387.62 600.62,376.03" fill="none" stroke="#3cbaf0" stroke-width="1.05" stroke-dasharray="3,2,1,2"/>
<g transform="translate(431.50,401.73)"><path d="M0,2.6449999999999996L2.5127499999999996,-1.6398999999999997L-2.5127499999999996,-1.6398999999999997Z" fill="#fff" stroke="#3cbaf0" stroke-width="0.6"/><path d="M0,2.6449999999999996L2.5127499999999996,-1.6398999999999997L-2.5127499999999996,-1.6398999999999997Z" fill="#3cbaf0" clip-path="url(#clipLeft)"/></g>
<g transform="translate(455.66,407.16)"><path d="M0,2.6449999999999996L2.5127499999999996,-1.6398999999999997L-2.5127499999999996,-1.6398999999999997Z" fill="#fff" stroke="#3cbaf0" stroke-width="0.6"/><path d="M0,2.6449999999999996L2.5127499999999996,-1.6398999999999997L-2.5127499999999996,-1.6398999999999997Z" fill="#3cbaf0" clip-path="url(#clipLeft)"/></g>
<g transform="translate(479.82,372.41)"><path d="M0,2.6449999999999996L2.5127499999999996,-1.6398999999999997L-2.5127499999999996,-1.6398999999999997Z" fill="#fff" stroke="#3cbaf0" stroke-width="0.6"/><path d="M0,2.6449999999999996L2.5127499999999996,-1.6398999999999997L-2.5127499999999996,-1.6398999999999997Z" fill="#3cbaf0" clip-path="url(#clipLeft)"/></g>
<g transform="translate(503.98,365.90)"><path d="M0,2.6449999999999996L2.5127499999999996,-1.6398999999999997L-2.5127499999999996,-1.6398999999999997Z" fill="#fff" stroke="#3cbaf0" stroke-width="0.6"/><path d="M0,2.6449999999999996L2.5127499999999996,-1.6398999999999997L-2.5127499999999996,-1.6398999999999997Z" fill="#3cbaf0" clip-path="url(#clipLeft)"/></g>
<g transform="translate(528.14,327.52)"><path d="M0,2.6449999999999996L2.5127499999999996,-1.6398999999999997L-2.5127499999999996,-1.6398999999999997Z" fill="#fff" stroke="#3cbaf0" stroke-width="0.6"/><path d="M0,2.6449999999999996L2.5127499999999996,-1.6398999999999997L-2.5127499999999996,-1.6398999999999997Z" fill="#3cbaf0" clip-path="url(#clipLeft)"/></g>
<g transform="translate(552.30,364.45)"><path d="M0,2.6449999999999996L2.5127499999999996,-1.6398999999999997L-2.5127499999999996,-1.6398999999999997Z" fill="#fff" stroke="#3cbaf0" stroke-width="0.6"/><path d="M0,2.6449999999999996L2.5127499999999996,-1.6398999999999997L-2.5127499999999996,-1.6398999999999997Z" fill="#3cbaf0" clip-path="url(#clipLeft)"/></g>
<g transform="translate(576.46,387.62)"><path d="M0,2.6449999999999996L2.5127499999999996,-1.6398999999999997L-2.5127499999999996,-1.6398999999999997Z" fill="#fff" stroke="#3cbaf0" stroke-width="0.6"/><path d="M0,2.6449999999999996L2.5127499999999996,-1.6398999999999997L-2.5127499999999996,-1.6398999999999997Z" fill="#3cbaf0" clip-path="url(#clipLeft)"/></g>
<g transform="translate(600.62,376.03)"><path d="M0,2.6449999999999996L2.5127499999999996,-1.6398999999999997L-2.5127499999999996,-1.6398999999999997Z" fill="#fff" stroke="#3cbaf0" stroke-width="0.6"/><path d="M0,2.6449999999999996L2.5127499999999996,-1.6398999999999997L-2.5127499999999996,-1.6398999999999997Z" fill="#3cbaf0" clip-path="url(#clipLeft)"/></g>
<polyline points="431.50,412.23 455.66,397.75 479.82,380.38 503.98,378.93 528.14,364.81 552.30,376.03 576.46,392.68 600.62,384.72" fill="none" stroke="#5aab2c" stroke-width="1.2"/>
<g transform="translate(431.50,412.23)"><path d="M0,-2.76L2.3459999999999996,0L0,2.76L-2.3459999999999996,0Z" fill="#fff" stroke="#5aab2c" stroke-width="0.6"/><path d="M0,-2.76L2.3459999999999996,0L0,2.76L-2.3459999999999996,0Z" fill="#5aab2c" clip-path="url(#clipLeft)"/></g>
<g transform="translate(455.66,397.75)"><path d="M0,-2.76L2.3459999999999996,0L0,2.76L-2.3459999999999996,0Z" fill="#fff" stroke="#5aab2c" stroke-width="0.6"/><path d="M0,-2.76L2.3459999999999996,0L0,2.76L-2.3459999999999996,0Z" fill="#5aab2c" clip-path="url(#clipLeft)"/></g>
<g transform="translate(479.82,380.38)"><path d="M0,-2.76L2.3459999999999996,0L0,2.76L-2.3459999999999996,0Z" fill="#fff" stroke="#5aab2c" stroke-width="0.6"/><path d="M0,-2.76L2.3459999999999996,0L0,2.76L-2.3459999999999996,0Z" fill="#5aab2c" clip-path="url(#clipLeft)"/></g>
<g transform="translate(503.98,378.93)"><path d="M0,-2.76L2.3459999999999996,0L0,2.76L-2.3459999999999996,0Z" fill="#fff" stroke="#5aab2c" stroke-width="0.6"/><path d="M0,-2.76L2.3459999999999996,0L0,2.76L-2.3459999999999996,0Z" fill="#5aab2c" clip-path="url(#clipLeft)"/></g>
<g transform="translate(528.14,364.81)"><path d="M0,-2.76L2.3459999999999996,0L0,2.76L-2.3459999999999996,0Z" fill="#fff" stroke="#5aab2c" stroke-width="0.6"/><path d="M0,-2.76L2.3459999999999996,0L0,2.76L-2.3459999999999996,0Z" fill="#5aab2c" clip-path="url(#clipLeft)"/></g>
<g transform="translate(552.30,376.03)"><path d="M0,-2.76L2.3459999999999996,0L0,2.76L-2.3459999999999996,0Z" fill="#fff" stroke="#5aab2c" stroke-width="0.6"/><path d="M0,-2.76L2.3459999999999996,0L0,2.76L-2.3459999999999996,0Z" fill="#5aab2c" clip-path="url(#clipLeft)"/></g>
<g transform="translate(576.46,392.68)"><path d="M0,-2.76L2.3459999999999996,0L0,2.76L-2.3459999999999996,0Z" fill="#fff" stroke="#5aab2c" stroke-width="0.6"/><path d="M0,-2.76L2.3459999999999996,0L0,2.76L-2.3459999999999996,0Z" fill="#5aab2c" clip-path="url(#clipLeft)"/></g>
<g transform="translate(600.62,384.72)"><path d="M0,-2.76L2.3459999999999996,0L0,2.76L-2.3459999999999996,0Z" fill="#fff" stroke="#5aab2c" stroke-width="0.6"/><path d="M0,-2.76L2.3459999999999996,0L0,2.76L-2.3459999999999996,0Z" fill="#5aab2c" clip-path="url(#clipLeft)"/></g>
<rect x="407.6" y="272" width="216.69999999999993" height="181.5" fill="none" stroke="#444" stroke-width="1.2"/>
<path d="M407.6,453.50H411.0" stroke="#444" stroke-width="1.08"/>
<text x="404.10" y="456.25" text-anchor="end">0.0</text>
<path d="M407.6,417.30H411.0" stroke="#444" stroke-width="1.08"/>
<text x="404.10" y="420.05" text-anchor="end">5.0</text>
<path d="M407.6,381.10H411.0" stroke="#444" stroke-width="1.08"/>
<text x="404.10" y="383.85" text-anchor="end">10.0</text>
<path d="M407.6,344.90H411.0" stroke="#444" stroke-width="1.08"/>
<text x="404.10" y="347.65" text-anchor="end">15.0</text>
<path d="M407.6,308.70H411.0" stroke="#444" stroke-width="1.08"/>
<text x="404.10" y="311.45" text-anchor="end">20.0</text>
<path d="M407.6,272.50H411.0" stroke="#444" stroke-width="1.08"/>
<text x="404.10" y="275.25" text-anchor="end">25.0</text>
<path d="M431.50,453.5V450.1" stroke="#444" stroke-width="1.08"/>
<text x="431.50" y="463.00" text-anchor="middle">4d</text>
<path d="M455.66,453.5V450.1" stroke="#444" stroke-width="1.08"/>
<text x="455.66" y="463.00" text-anchor="middle">8d</text>
<path d="M479.82,453.5V450.1" stroke="#444" stroke-width="1.08"/>
<text x="479.82" y="463.00" text-anchor="middle">12d</text>
<path d="M503.98,453.5V450.1" stroke="#444" stroke-width="1.08"/>
<text x="503.98" y="463.00" text-anchor="middle">16d</text>
<path d="M528.14,453.5V450.1" stroke="#444" stroke-width="1.08"/>
<text x="528.14" y="463.00" text-anchor="middle">20d</text>
<path d="M552.30,453.5V450.1" stroke="#444" stroke-width="1.08"/>
<text x="552.30" y="463.00" text-anchor="middle">24d</text>
<path d="M576.46,453.5V450.1" stroke="#444" stroke-width="1.08"/>
<text x="576.46" y="463.00" text-anchor="middle">28d</text>
<path d="M600.62,453.5V450.1" stroke="#444" stroke-width="1.08"/>
<text x="600.62" y="463.00" text-anchor="middle">32d</text>
<text x="516" y="476" text-anchor="middle">Time</text>
<text transform="translate(384,361.8) rotate(-90)" text-anchor="middle" font-size="7.65">Black Spot Size(mm)</text>
<text x="345.8" y="269.3" font-size="25.5">(d)</text>
<path d="M631.3,277.20H648.5" stroke="#4a0f6e" stroke-width="1.05" stroke-dasharray="1.3,3.6"/>
<g transform="translate(639.90,277.20)"><path d="M-2.3,-2.3H2.3V2.3H-2.3Z" fill="#fff" stroke="#4a0f6e" stroke-width="0.6"/><path d="M-2.3,-2.3H2.3V2.3H-2.3Z" fill="#4a0f6e" clip-path="url(#clipLeft)"/></g>
<text x="650.5" y="279.72">CK</text>
<path d="M631.3,286.80H648.5" stroke="#d9262b" stroke-width="1.05" stroke-dasharray="4,3"/>
<g transform="translate(639.90,286.80)"><path d="M-2.3,0A2.3,2.3 0 1,0 2.3,0A2.3,2.3 0 1,0 -2.3,0Z" fill="#fff" stroke="#d9262b" stroke-width="0.6"/><path d="M-2.3,0A2.3,2.3 0 1,0 2.3,0A2.3,2.3 0 1,0 -2.3,0Z" fill="#d9262b" clip-path="url(#clipLeft)"/></g>
<text x="650.5" y="289.32">0.204 g/kg</text>
<path d="M631.3,296.40H648.5" stroke="#c4622b" stroke-width="1.05" stroke-dasharray="5,2,1,2"/>
<g transform="translate(639.90,296.40)"><path d="M0,-2.6449999999999996L2.5127499999999996,1.6398999999999997L-2.5127499999999996,1.6398999999999997Z" fill="#fff" stroke="#c4622b" stroke-width="0.6"/><path d="M0,-2.6449999999999996L2.5127499999999996,1.6398999999999997L-2.5127499999999996,1.6398999999999997Z" fill="#c4622b" clip-path="url(#clipLeft)"/></g>
<text x="650.5" y="298.92">0.408 g/kg</text>
<path d="M631.3,306.00H648.5" stroke="#3cbaf0" stroke-width="1.05" stroke-dasharray="3,2,1,2"/>
<g transform="translate(639.90,306.00)"><path d="M0,2.6449999999999996L2.5127499999999996,-1.6398999999999997L-2.5127499999999996,-1.6398999999999997Z" fill="#fff" stroke="#3cbaf0" stroke-width="0.6"/><path d="M0,2.6449999999999996L2.5127499999999996,-1.6398999999999997L-2.5127499999999996,-1.6398999999999997Z" fill="#3cbaf0" clip-path="url(#clipLeft)"/></g>
<text x="650.5" y="308.52">0.816 g/kg</text>
<path d="M631.3,315.60H648.5" stroke="#5aab2c" stroke-width="1.2"/>
<g transform="translate(639.90,315.60)"><path d="M0,-2.76L2.3459999999999996,0L0,2.76L-2.3459999999999996,0Z" fill="#fff" stroke="#5aab2c" stroke-width="0.6"/><path d="M0,-2.76L2.3459999999999996,0L0,2.76L-2.3459999999999996,0Z" fill="#5aab2c" clip-path="url(#clipLeft)"/></g>
<text x="650.5" y="318.12">1.632 g/kg</text></g>
<g><path d="M79.30,687.39V694.96M77.50,687.39H81.10M77.50,694.96H81.10" stroke="#111111" stroke-width="0.5" fill="none" opacity="0.55"/>
<path d="M104.60,680.84V683.36M102.80,680.84H106.40M102.80,683.36H106.40" stroke="#111111" stroke-width="0.5" fill="none" opacity="0.55"/>
<path d="M129.90,665.97V676.05M128.10,665.97H131.70M128.10,676.05H131.70" stroke="#111111" stroke-width="0.5" fill="none" opacity="0.55"/>
<path d="M155.20,653.61V663.70M153.40,653.61H157.00M153.40,663.70H157.00" stroke="#111111" stroke-width="0.5" fill="none" opacity="0.55"/>
<path d="M180.50,661.93V670.00M178.70,661.93H182.30M178.70,670.00H182.30" stroke="#111111" stroke-width="0.5" fill="none" opacity="0.55"/>
<path d="M205.80,674.29V679.33M204.00,674.29H207.60M204.00,679.33H207.60" stroke="#111111" stroke-width="0.5" fill="none" opacity="0.55"/>
<path d="M231.10,678.07V681.09M229.30,678.07H232.90M229.30,681.09H232.90" stroke="#111111" stroke-width="0.5" fill="none" opacity="0.55"/>
<path d="M256.40,685.63V688.66M254.60,685.63H258.20M254.60,688.66H258.20" stroke="#111111" stroke-width="0.5" fill="none" opacity="0.55"/>
<path d="M79.30,668.74V674.79M77.50,668.74H81.10M77.50,674.79H81.10" stroke="#e8961f" stroke-width="0.5" fill="none" opacity="0.55"/>
<path d="M104.60,669.75V674.79M102.80,669.75H106.40M102.80,674.79H106.40" stroke="#e8961f" stroke-width="0.5" fill="none" opacity="0.55"/>
<path d="M129.90,634.71V639.75M128.10,634.71H131.70M128.10,639.75H131.70" stroke="#e8961f" stroke-width="0.5" fill="none" opacity="0.55"/>
<path d="M155.20,597.14V607.23M153.40,597.14H157.00M153.40,607.23H157.00" stroke="#e8961f" stroke-width="0.5" fill="none" opacity="0.55"/>
<path d="M180.50,569.92V580.00M178.70,569.92H182.30M178.70,580.00H182.30" stroke="#e8961f" stroke-width="0.5" fill="none" opacity="0.55"/>
<path d="M205.80,612.52V617.56M204.00,612.52H207.60M204.00,617.56H207.60" stroke="#e8961f" stroke-width="0.5" fill="none" opacity="0.55"/>
<path d="M231.10,610.76V615.80M229.30,610.76H232.90M229.30,615.80H232.90" stroke="#e8961f" stroke-width="0.5" fill="none" opacity="0.55"/>
<path d="M256.40,647.56V651.60M254.60,647.56H258.20M254.60,651.60H258.20" stroke="#e8961f" stroke-width="0.5" fill="none" opacity="0.55"/>
<path d="M79.30,656.13V661.18M77.50,656.13H81.10M77.50,661.18H81.10" stroke="#49adea" stroke-width="0.5" fill="none" opacity="0.55"/>
<path d="M104.60,645.29V655.38M102.80,645.29H106.40M102.80,655.38H106.40" stroke="#49adea" stroke-width="0.5" fill="none" opacity="0.55"/>
<path d="M129.90,602.19V612.27M128.10,602.19H131.70M128.10,612.27H131.70" stroke="#49adea" stroke-width="0.5" fill="none" opacity="0.55"/>
<path d="M155.20,594.62V602.19M153.40,594.62H157.00M153.40,602.19H157.00" stroke="#49adea" stroke-width="0.5" fill="none" opacity="0.55"/>
<path d="M180.50,544.45V549.50M178.70,544.45H182.30M178.70,549.50H182.30" stroke="#49adea" stroke-width="0.5" fill="none" opacity="0.55"/>
<path d="M205.80,573.70V578.74M204.00,573.70H207.60M204.00,578.74H207.60" stroke="#49adea" stroke-width="0.5" fill="none" opacity="0.55"/>
<path d="M231.10,586.05V596.13M229.30,586.05H232.90M229.30,596.13H232.90" stroke="#49adea" stroke-width="0.5" fill="none" opacity="0.55"/>
<path d="M256.40,607.48V617.56M254.60,607.48H258.20M254.60,617.56H258.20" stroke="#49adea" stroke-width="0.5" fill="none" opacity="0.55"/>
<path d="M79.30,670.50V678.07M77.50,670.50H81.10M77.50,678.07H81.10" stroke="#1c9a6c" stroke-width="0.5" fill="none" opacity="0.55"/>
<path d="M104.60,668.49V677.56M102.80,668.49H106.40M102.80,677.56H106.40" stroke="#1c9a6c" stroke-width="0.5" fill="none" opacity="0.55"/>
<path d="M129.90,596.39V611.51M128.10,596.39H131.70M128.10,611.51H131.70" stroke="#1c9a6c" stroke-width="0.5" fill="none" opacity="0.55"/>
<path d="M155.20,594.87V615.04M153.40,594.87H157.00M153.40,615.04H157.00" stroke="#1c9a6c" stroke-width="0.5" fill="none" opacity="0.55"/>
<path d="M180.50,555.04V569.16M178.70,555.04H182.30M178.70,569.16H182.30" stroke="#1c9a6c" stroke-width="0.5" fill="none" opacity="0.55"/>
<path d="M205.80,604.20V610.76M204.00,604.20H207.60M204.00,610.76H207.60" stroke="#1c9a6c" stroke-width="0.5" fill="none" opacity="0.55"/>
<path d="M231.10,599.41V604.45M229.30,599.41H232.90M229.30,604.45H232.90" stroke="#1c9a6c" stroke-width="0.5" fill="none" opacity="0.55"/>
<path d="M256.40,622.35V629.92M254.60,622.35H258.20M254.60,629.92H258.20" stroke="#1c9a6c" stroke-width="0.5" fill="none" opacity="0.55"/>
<path d="M79.30,683.61V692.18M77.50,683.61H81.10M77.50,692.18H81.10" stroke="#f1e230" stroke-width="0.5" fill="none" opacity="0.55"/>
<path d="M104.60,670.50V675.55M102.80,670.50H106.40M102.80,675.55H106.40" stroke="#f1e230" stroke-width="0.5" fill="none" opacity="0.55"/>
<path d="M129.90,668.99V677.06M128.10,668.99H131.70M128.10,677.06H131.70" stroke="#f1e230" stroke-width="0.5" fill="none" opacity="0.55"/>
<path d="M155.20,632.69V637.73M153.40,632.69H157.00M153.40,637.73H157.00" stroke="#f1e230" stroke-width="0.5" fill="none" opacity="0.55"/>
<path d="M180.50,614.03V621.60M178.70,614.03H182.30M178.70,621.60H182.30" stroke="#f1e230" stroke-width="0.5" fill="none" opacity="0.55"/>
<path d="M205.80,621.09V636.22M204.00,621.09H207.60M204.00,636.22H207.60" stroke="#f1e230" stroke-width="0.5" fill="none" opacity="0.55"/>
<path d="M231.10,628.40V643.53M229.30,628.40H232.90M229.30,643.53H232.90" stroke="#f1e230" stroke-width="0.5" fill="none" opacity="0.55"/>
<path d="M256.40,659.41V666.97M254.60,659.41H258.20M254.60,666.97H258.20" stroke="#f1e230" stroke-width="0.5" fill="none" opacity="0.55"/>
<polyline points="79.30,691.18 104.60,682.10 129.90,671.01 155.20,658.66 180.50,665.97 205.80,676.81 231.10,679.58 256.40,687.14" fill="none" stroke="#111111" stroke-width="1.25"/>
<path transform="translate(79.30,691.18)" d="M-2.2,-2.2H2.2V2.2H-2.2Z" fill="#111111" stroke="#111111" stroke-width="0.3"/>
<path transform="translate(104.60,682.10)" d="M-2.2,-2.2H2.2V2.2H-2.2Z" fill="#111111" stroke="#111111" stroke-width="0.3"/>
<path transform="translate(129.90,671.01)" d="M-2.2,-2.2H2.2V2.2H-2.2Z" fill="#111111" stroke="#111111" stroke-width="0.3"/>
<path transform="translate(155.20,658.66)" d="M-2.2,-2.2H2.2V2.2H-2.2Z" fill="#111111" stroke="#111111" stroke-width="0.3"/>
<path transform="translate(180.50,665.97)" d="M-2.2,-2.2H2.2V2.2H-2.2Z" fill="#111111" stroke="#111111" stroke-width="0.3"/>
<path transform="translate(205.80,676.81)" d="M-2.2,-2.2H2.2V2.2H-2.2Z" fill="#111111" stroke="#111111" stroke-width="0.3"/>
<path transform="translate(231.10,679.58)" d="M-2.2,-2.2H2.2V2.2H-2.2Z" fill="#111111" stroke="#111111" stroke-width="0.3"/>
<path transform="translate(256.40,687.14)" d="M-2.2,-2.2H2.2V2.2H-2.2Z" fill="#111111" stroke="#111111" stroke-width="0.3"/>
<polyline points="79.30,671.76 104.60,672.27 129.90,637.23 155.20,602.19 180.50,574.96 205.80,615.04 231.10,613.28 256.40,649.58" fill="none" stroke="#e8961f" stroke-width="1.25"/>
<path transform="translate(79.30,671.76)" d="M-2.2,0A2.2,2.2 0 1,0 2.2,0A2.2,2.2 0 1,0 -2.2,0Z" fill="#e8961f" stroke="#e8961f" stroke-width="0.3"/>
<path transform="translate(104.60,672.27)" d="M-2.2,0A2.2,2.2 0 1,0 2.2,0A2.2,2.2 0 1,0 -2.2,0Z" fill="#e8961f" stroke="#e8961f" stroke-width="0.3"/>
<path transform="translate(129.90,637.23)" d="M-2.2,0A2.2,2.2 0 1,0 2.2,0A2.2,2.2 0 1,0 -2.2,0Z" fill="#e8961f" stroke="#e8961f" stroke-width="0.3"/>
<path transform="translate(155.20,602.19)" d="M-2.2,0A2.2,2.2 0 1,0 2.2,0A2.2,2.2 0 1,0 -2.2,0Z" fill="#e8961f" stroke="#e8961f" stroke-width="0.3"/>
<path transform="translate(180.50,574.96)" d="M-2.2,0A2.2,2.2 0 1,0 2.2,0A2.2,2.2 0 1,0 -2.2,0Z" fill="#e8961f" stroke="#e8961f" stroke-width="0.3"/>
<path transform="translate(205.80,615.04)" d="M-2.2,0A2.2,2.2 0 1,0 2.2,0A2.2,2.2 0 1,0 -2.2,0Z" fill="#e8961f" stroke="#e8961f" stroke-width="0.3"/>
<path transform="translate(231.10,613.28)" d="M-2.2,0A2.2,2.2 0 1,0 2.2,0A2.2,2.2 0 1,0 -2.2,0Z" fill="#e8961f" stroke="#e8961f" stroke-width="0.3"/>
<path transform="translate(256.40,649.58)" d="M-2.2,0A2.2,2.2 0 1,0 2.2,0A2.2,2.2 0 1,0 -2.2,0Z" fill="#e8961f" stroke="#e8961f" stroke-width="0.3"/>
<polyline points="79.30,658.66 104.60,650.34 129.90,607.23 155.20,598.40 180.50,546.98 205.80,576.22 231.10,591.09 256.40,612.52" fill="none" stroke="#49adea" stroke-width="1.25"/>
<path transform="translate(79.30,658.66)" d="M0,-2.53L2.4034999999999997,1.5685999999999998L-2.4034999999999997,1.5685999999999998Z" fill="#49adea" stroke="#49adea" stroke-width="0.3"/>
<path transform="translate(104.60,650.34)" d="M0,-2.53L2.4034999999999997,1.5685999999999998L-2.4034999999999997,1.5685999999999998Z" fill="#49adea" stroke="#49adea" stroke-width="0.3"/>
<path transform="translate(129.90,607.23)" d="M0,-2.53L2.4034999999999997,1.5685999999999998L-2.4034999999999997,1.5685999999999998Z" fill="#49adea" stroke="#49adea" stroke-width="0.3"/>
<path transform="translate(155.20,598.40)" d="M0,-2.53L2.4034999999999997,1.5685999999999998L-2.4034999999999997,1.5685999999999998Z" fill="#49adea" stroke="#49adea" stroke-width="0.3"/>
<path transform="translate(180.50,546.98)" d="M0,-2.53L2.4034999999999997,1.5685999999999998L-2.4034999999999997,1.5685999999999998Z" fill="#49adea" stroke="#49adea" stroke-width="0.3"/>
<path transform="translate(205.80,576.22)" d="M0,-2.53L2.4034999999999997,1.5685999999999998L-2.4034999999999997,1.5685999999999998Z" fill="#49adea" stroke="#49adea" stroke-width="0.3"/>
<path transform="translate(231.10,591.09)" d="M0,-2.53L2.4034999999999997,1.5685999999999998L-2.4034999999999997,1.5685999999999998Z" fill="#49adea" stroke="#49adea" stroke-width="0.3"/>
<path transform="translate(256.40,612.52)" d="M0,-2.53L2.4034999999999997,1.5685999999999998L-2.4034999999999997,1.5685999999999998Z" fill="#49adea" stroke="#49adea" stroke-width="0.3"/>
<polyline points="79.30,674.29 104.60,673.03 129.90,603.95 155.20,604.96 180.50,562.10 205.80,607.48 231.10,601.93 256.40,626.13" fill="none" stroke="#1c9a6c" stroke-width="1.25"/>
<path transform="translate(79.30,674.29)" d="M0,2.53L2.4034999999999997,-1.5685999999999998L-2.4034999999999997,-1.5685999999999998Z" fill="#1c9a6c" stroke="#1c9a6c" stroke-width="0.3"/>
<path transform="translate(104.60,673.03)" d="M0,2.53L2.4034999999999997,-1.5685999999999998L-2.4034999999999997,-1.5685999999999998Z" fill="#1c9a6c" stroke="#1c9a6c" stroke-width="0.3"/>
<path transform="translate(129.90,603.95)" d="M0,2.53L2.4034999999999997,-1.5685999999999998L-2.4034999999999997,-1.5685999999999998Z" fill="#1c9a6c" stroke="#1c9a6c" stroke-width="0.3"/>
<path transform="translate(155.20,604.96)" d="M0,2.53L2.4034999999999997,-1.5685999999999998L-2.4034999999999997,-1.5685999999999998Z" fill="#1c9a6c" stroke="#1c9a6c" stroke-width="0.3"/>
<path transform="translate(180.50,562.10)" d="M0,2.53L2.4034999999999997,-1.5685999999999998L-2.4034999999999997,-1.5685999999999998Z" fill="#1c9a6c" stroke="#1c9a6c" stroke-width="0.3"/>
<path transform="translate(205.80,607.48)" d="M0,2.53L2.4034999999999997,-1.5685999999999998L-2.4034999999999997,-1.5685999999999998Z" fill="#1c9a6c" stroke="#1c9a6c" stroke-width="0.3"/>
<path transform="translate(231.10,601.93)" d="M0,2.53L2.4034999999999997,-1.5685999999999998L-2.4034999999999997,-1.5685999999999998Z" fill="#1c9a6c" stroke="#1c9a6c" stroke-width="0.3"/>
<path transform="translate(256.40,626.13)" d="M0,2.53L2.4034999999999997,-1.5685999999999998L-2.4034999999999997,-1.5685999999999998Z" fill="#1c9a6c" stroke="#1c9a6c" stroke-width="0.3"/>
<polyline points="79.30,687.90 104.60,673.03 129.90,673.03 155.20,635.21 180.50,617.82 205.80,628.66 231.10,635.97 256.40,663.19" fill="none" stroke="#f1e230" stroke-width="1.25"/>
<path transform="translate(79.30,687.90)" d="M0,-2.64L2.244,0L0,2.64L-2.244,0Z" fill="#f1e230" stroke="#f1e230" stroke-width="0.3"/>
<path transform="translate(104.60,673.03)" d="M0,-2.64L2.244,0L0,2.64L-2.244,0Z" fill="#f1e230" stroke="#f1e230" stroke-width="0.3"/>
<path transform="translate(129.90,673.03)" d="M0,-2.64L2.244,0L0,2.64L-2.244,0Z" fill="#f1e230" stroke="#f1e230" stroke-width="0.3"/>
<path transform="translate(155.20,635.21)" d="M0,-2.64L2.244,0L0,2.64L-2.244,0Z" fill="#f1e230" stroke="#f1e230" stroke-width="0.3"/>
<path transform="translate(180.50,617.82)" d="M0,-2.64L2.244,0L0,2.64L-2.244,0Z" fill="#f1e230" stroke="#f1e230" stroke-width="0.3"/>
<path transform="translate(205.80,628.66)" d="M0,-2.64L2.244,0L0,2.64L-2.244,0Z" fill="#f1e230" stroke="#f1e230" stroke-width="0.3"/>
<path transform="translate(231.10,635.97)" d="M0,-2.64L2.244,0L0,2.64L-2.244,0Z" fill="#f1e230" stroke="#f1e230" stroke-width="0.3"/>
<path transform="translate(256.40,663.19)" d="M0,-2.64L2.244,0L0,2.64L-2.244,0Z" fill="#f1e230" stroke="#f1e230" stroke-width="0.3"/>
<rect x="53.9" y="523.5" width="227.6" height="176.5" fill="none" stroke="#444" stroke-width="1.2"/>
<path d="M53.9,700.00H57.3" stroke="#444" stroke-width="1.08"/>
<text x="50.40" y="702.75" text-anchor="end">0</text>
<path d="M53.9,682.35H57.3" stroke="#444" stroke-width="1.08"/>
<text x="50.40" y="685.11" text-anchor="end">7</text>
<path d="M53.9,664.71H57.3" stroke="#444" stroke-width="1.08"/>
<text x="50.40" y="667.46" text-anchor="end">14</text>
<path d="M53.9,647.06H57.3" stroke="#444" stroke-width="1.08"/>
<text x="50.40" y="649.81" text-anchor="end">21</text>
<path d="M53.9,629.41H57.3" stroke="#444" stroke-width="1.08"/>
<text x="50.40" y="632.17" text-anchor="end">28</text>
<path d="M53.9,611.76H57.3" stroke="#444" stroke-width="1.08"/>
<text x="50.40" y="614.52" text-anchor="end">35</text>
<path d="M53.9,594.12H57.3" stroke="#444" stroke-width="1.08"/>
<text x="50.40" y="596.87" text-anchor="end">42</text>
<path d="M53.9,576.47H57.3" stroke="#444" stroke-width="1.08"/>
<text x="50.40" y="579.23" text-anchor="end">49</text>
<path d="M53.9,558.82H57.3" stroke="#444" stroke-width="1.08"/>
<text x="50.40" y="561.58" text-anchor="end">56</text>
<path d="M53.9,541.18H57.3" stroke="#444" stroke-width="1.08"/>
<text x="50.40" y="543.93" text-anchor="end">63</text>
<path d="M53.9,523.53H57.3" stroke="#444" stroke-width="1.08"/>
<text x="50.40" y="526.28" text-anchor="end">70</text>
<path d="M53.9,691.18H55.94" stroke="#444" stroke-width="0.96"/>
<path d="M53.9,673.53H55.94" stroke="#444" stroke-width="0.96"/>
<path d="M53.9,655.88H55.94" stroke="#444" stroke-width="0.96"/>
<path d="M53.9,638.24H55.94" stroke="#444" stroke-width="0.96"/>
<path d="M53.9,620.59H55.94" stroke="#444" stroke-width="0.96"/>
<path d="M53.9,602.94H55.94" stroke="#444" stroke-width="0.96"/>
<path d="M53.9,585.29H55.94" stroke="#444" stroke-width="0.96"/>
<path d="M53.9,567.65H55.94" stroke="#444" stroke-width="0.96"/>
<path d="M53.9,550.00H55.94" stroke="#444" stroke-width="0.96"/>
<path d="M53.9,532.35H55.94" stroke="#444" stroke-width="0.96"/>
<path d="M79.30,700V696.6" stroke="#444" stroke-width="1.08"/>
<text x="79.30" y="709.50" text-anchor="middle">4d</text>
<path d="M104.60,700V696.6" stroke="#444" stroke-width="1.08"/>
<text x="104.60" y="709.50" text-anchor="middle">8d</text>
<path d="M129.90,700V696.6" stroke="#444" stroke-width="1.08"/>
<text x="129.90" y="709.50" text-anchor="middle">12d</text>
<path d="M155.20,700V696.6" stroke="#444" stroke-width="1.08"/>
<text x="155.20" y="709.50" text-anchor="middle">16d</text>
<path d="M180.50,700V696.6" stroke="#444" stroke-width="1.08"/>
<text x="180.50" y="709.50" text-anchor="middle">20d</text>
<path d="M205.80,700V696.6" stroke="#444" stroke-width="1.08"/>
<text x="205.80" y="709.50" text-anchor="middle">24d</text>
<path d="M231.10,700V696.6" stroke="#444" stroke-width="1.08"/>
<text x="231.10" y="709.50" text-anchor="middle">28d</text>
<path d="M256.40,700V696.6" stroke="#444" stroke-width="1.08"/>
<text x="256.40" y="709.50" text-anchor="middle">32d</text>
<text x="167.9" y="725.2" text-anchor="middle">Time</text>
<text transform="translate(34.5,611.4) rotate(-90)" text-anchor="middle" font-size="7.65">Number of Black Spots</text>
<text x="0.4" y="521" font-size="25.5">(e)</text>
<path d="M283.1,527.40H301.3" stroke="#111111" stroke-width="1.25"/>
<path transform="translate(292.20,527.40)" d="M-2.2,-2.2H2.2V2.2H-2.2Z" fill="#111111" stroke="#111111" stroke-width="0.3"/>
<text x="303.1" y="529.92">0 g/kg</text>
<path d="M283.1,536.85H301.3" stroke="#e8961f" stroke-width="1.25"/>
<path transform="translate(292.20,536.85)" d="M-2.2,0A2.2,2.2 0 1,0 2.2,0A2.2,2.2 0 1,0 -2.2,0Z" fill="#e8961f" stroke="#e8961f" stroke-width="0.3"/>
<text x="303.1" y="539.37">0.148 g/kg</text>
<path d="M283.1,546.30H301.3" stroke="#49adea" stroke-width="1.25"/>
<path transform="translate(292.20,546.30)" d="M0,-2.53L2.4034999999999997,1.5685999999999998L-2.4034999999999997,1.5685999999999998Z" fill="#49adea" stroke="#49adea" stroke-width="0.3"/>
<text x="303.1" y="548.82">0.296 g/kg</text>
<path d="M283.1,555.75H301.3" stroke="#1c9a6c" stroke-width="1.25"/>
<path transform="translate(292.20,555.75)" d="M0,2.53L2.4034999999999997,-1.5685999999999998L-2.4034999999999997,-1.5685999999999998Z" fill="#1c9a6c" stroke="#1c9a6c" stroke-width="0.3"/>
<text x="303.1" y="558.27">0.592 g/kg</text>
<path d="M283.1,565.20H301.3" stroke="#f1e230" stroke-width="1.25"/>
<path transform="translate(292.20,565.20)" d="M0,-2.64L2.244,0L0,2.64L-2.244,0Z" fill="#f1e230" stroke="#f1e230" stroke-width="0.3"/>
<text x="303.1" y="567.72">1.184 g/kg</text></g>
<g><path d="M432.80,676.66V689.95M431.00,676.66H434.60M431.00,689.95H434.60" stroke="#bddf26" stroke-width="0.5" fill="none" opacity="0.55"/>
<path d="M457.33,662.49V675.78M455.53,662.49H459.13M455.53,675.78H459.13" stroke="#bddf26" stroke-width="0.5" fill="none" opacity="0.55"/>
<path d="M481.86,639.45V657.17M480.06,639.45H483.66M480.06,657.17H483.66" stroke="#bddf26" stroke-width="0.5" fill="none" opacity="0.55"/>
<path d="M506.39,618.63V636.35M504.59,618.63H508.19M504.59,636.35H508.19" stroke="#bddf26" stroke-width="0.5" fill="none" opacity="0.55"/>
<path d="M530.92,631.92V649.64M529.12,631.92H532.72M529.12,649.64H532.72" stroke="#bddf26" stroke-width="0.5" fill="none" opacity="0.55"/>
<path d="M555.45,653.19V666.48M553.65,653.19H557.25M553.65,666.48H557.25" stroke="#bddf26" stroke-width="0.5" fill="none" opacity="0.55"/>
<path d="M579.98,657.62V670.91M578.18,657.62H581.78M578.18,670.91H581.78" stroke="#bddf26" stroke-width="0.5" fill="none" opacity="0.55"/>
<path d="M604.51,673.56V682.42M602.71,673.56H606.31M602.71,682.42H606.31" stroke="#bddf26" stroke-width="0.5" fill="none" opacity="0.55"/>
<path d="M432.80,656.29V665.15M431.00,656.29H434.60M431.00,665.15H434.60" stroke="#3cbd70" stroke-width="0.5" fill="none" opacity="0.55"/>
<path d="M457.33,643.88V652.74M455.53,643.88H459.13M455.53,652.74H459.13" stroke="#3cbd70" stroke-width="0.5" fill="none" opacity="0.55"/>
<path d="M481.86,556.17V571.23M480.06,556.17H483.66M480.06,571.23H483.66" stroke="#3cbd70" stroke-width="0.5" fill="none" opacity="0.55"/>
<path d="M506.39,567.69V580.98M504.59,567.69H508.19M504.59,580.98H508.19" stroke="#3cbd70" stroke-width="0.5" fill="none" opacity="0.55"/>
<path d="M530.92,546.87V560.16M529.12,546.87H532.72M529.12,560.16H532.72" stroke="#3cbd70" stroke-width="0.5" fill="none" opacity="0.55"/>
<path d="M555.45,541.99V550.85M553.65,541.99H557.25M553.65,550.85H557.25" stroke="#3cbd70" stroke-width="0.5" fill="none" opacity="0.55"/>
<path d="M579.98,559.27V568.13M578.18,559.27H581.78M578.18,568.13H581.78" stroke="#3cbd70" stroke-width="0.5" fill="none" opacity="0.55"/>
<path d="M604.51,601.35V610.21M602.71,601.35H606.31M602.71,610.21H606.31" stroke="#3cbd70" stroke-width="0.5" fill="none" opacity="0.55"/>
<path d="M432.80,634.58V652.30M431.00,634.58H434.60M431.00,652.30H434.60" stroke="#21918c" stroke-width="0.5" fill="none" opacity="0.55"/>
<path d="M457.33,606.67V627.05M455.53,606.67H459.13M455.53,627.05H459.13" stroke="#21918c" stroke-width="0.5" fill="none" opacity="0.55"/>
<path d="M481.86,569.02V582.31M480.06,569.02H483.66M480.06,582.31H483.66" stroke="#21918c" stroke-width="0.5" fill="none" opacity="0.55"/>
<path d="M506.39,558.38V571.67M504.59,558.38H508.19M504.59,571.67H508.19" stroke="#21918c" stroke-width="0.5" fill="none" opacity="0.55"/>
<path d="M530.92,560.16V573.45M529.12,560.16H532.72M529.12,573.45H532.72" stroke="#21918c" stroke-width="0.5" fill="none" opacity="0.55"/>
<path d="M555.45,542.88V556.17M553.65,542.88H557.25M553.65,556.17H557.25" stroke="#21918c" stroke-width="0.5" fill="none" opacity="0.55"/>
<path d="M579.98,535.35V551.30M578.18,535.35H581.78M578.18,551.30H581.78" stroke="#21918c" stroke-width="0.5" fill="none" opacity="0.55"/>
<path d="M604.51,585.85V597.37M602.71,585.85H606.31M602.71,597.37H606.31" stroke="#21918c" stroke-width="0.5" fill="none" opacity="0.55"/>
<path d="M432.80,644.77V658.06M431.00,644.77H434.60M431.00,658.06H434.60" stroke="#355a8c" stroke-width="0.5" fill="none" opacity="0.55"/>
<path d="M457.33,647.43V660.72M455.53,647.43H459.13M455.53,660.72H459.13" stroke="#355a8c" stroke-width="0.5" fill="none" opacity="0.55"/>
<path d="M481.86,599.58V617.30M480.06,599.58H483.66M480.06,617.30H483.66" stroke="#355a8c" stroke-width="0.5" fill="none" opacity="0.55"/>
<path d="M506.39,581.42V594.71M504.59,581.42H508.19M504.59,594.71H508.19" stroke="#355a8c" stroke-width="0.5" fill="none" opacity="0.55"/>
<path d="M530.92,538.89V556.61M529.12,538.89H532.72M529.12,556.61H532.72" stroke="#355a8c" stroke-width="0.5" fill="none" opacity="0.55"/>
<path d="M555.45,567.69V594.27M553.65,567.69H557.25M553.65,594.27H557.25" stroke="#355a8c" stroke-width="0.5" fill="none" opacity="0.55"/>
<path d="M579.98,586.29V609.33M578.18,586.29H581.78M578.18,609.33H581.78" stroke="#355a8c" stroke-width="0.5" fill="none" opacity="0.55"/>
<path d="M604.51,610.66V632.81M602.71,610.66H606.31M602.71,632.81H606.31" stroke="#355a8c" stroke-width="0.5" fill="none" opacity="0.55"/>
<path d="M432.80,654.96V668.25M431.00,654.96H434.60M431.00,668.25H434.60" stroke="#482876" stroke-width="0.5" fill="none" opacity="0.55"/>
<path d="M457.33,653.19V666.48M455.53,653.19H459.13M455.53,666.48H459.13" stroke="#482876" stroke-width="0.5" fill="none" opacity="0.55"/>
<path d="M481.86,626.61V648.76M480.06,626.61H483.66M480.06,648.76H483.66" stroke="#482876" stroke-width="0.5" fill="none" opacity="0.55"/>
<path d="M506.39,605.34V623.06M504.59,605.34H508.19M504.59,623.06H508.19" stroke="#482876" stroke-width="0.5" fill="none" opacity="0.55"/>
<path d="M530.92,602.24V619.96M529.12,602.24H532.72M529.12,619.96H532.72" stroke="#482876" stroke-width="0.5" fill="none" opacity="0.55"/>
<path d="M555.45,593.82V607.11M553.65,593.82H557.25M553.65,607.11H557.25" stroke="#482876" stroke-width="0.5" fill="none" opacity="0.55"/>
<path d="M579.98,597.81V618.19M578.18,597.81H581.78M578.18,618.19H581.78" stroke="#482876" stroke-width="0.5" fill="none" opacity="0.55"/>
<path d="M604.51,643.44V658.50M602.71,643.44H606.31M602.71,658.50H606.31" stroke="#482876" stroke-width="0.5" fill="none" opacity="0.55"/>
<polyline points="432.80,683.31 457.33,669.13 481.86,648.31 506.39,627.49 530.92,640.78 555.45,659.83 579.98,664.26 604.51,677.99" fill="none" stroke="#bddf26" stroke-width="1.2"/>
<path transform="translate(432.80,683.31)" d="M-2.2,-2.2H2.2V2.2H-2.2Z" fill="#bddf26" stroke="#bddf26" stroke-width="0.3"/>
<path transform="translate(457.33,669.13)" d="M-2.2,-2.2H2.2V2.2H-2.2Z" fill="#bddf26" stroke="#bddf26" stroke-width="0.3"/>
<path transform="translate(481.86,648.31)" d="M-2.2,-2.2H2.2V2.2H-2.2Z" fill="#bddf26" stroke="#bddf26" stroke-width="0.3"/>
<path transform="translate(506.39,627.49)" d="M-2.2,-2.2H2.2V2.2H-2.2Z" fill="#bddf26" stroke="#bddf26" stroke-width="0.3"/>
<path transform="translate(530.92,640.78)" d="M-2.2,-2.2H2.2V2.2H-2.2Z" fill="#bddf26" stroke="#bddf26" stroke-width="0.3"/>
<path transform="translate(555.45,659.83)" d="M-2.2,-2.2H2.2V2.2H-2.2Z" fill="#bddf26" stroke="#bddf26" stroke-width="0.3"/>
<path transform="translate(579.98,664.26)" d="M-2.2,-2.2H2.2V2.2H-2.2Z" fill="#bddf26" stroke="#bddf26" stroke-width="0.3"/>
<path transform="translate(604.51,677.99)" d="M-2.2,-2.2H2.2V2.2H-2.2Z" fill="#bddf26" stroke="#bddf26" stroke-width="0.3"/>
<polyline points="432.80,660.72 457.33,648.31 481.86,563.70 506.39,574.33 530.92,553.51 555.45,546.42 579.98,563.70 604.51,605.78" fill="none" stroke="#3cbd70" stroke-width="1.15"/>
<path transform="translate(432.80,660.72)" d="M-2.2,0A2.2,2.2 0 1,0 2.2,0A2.2,2.2 0 1,0 -2.2,0Z" fill="#3cbd70" stroke="#3cbd70" stroke-width="0.3"/>
<path transform="translate(457.33,648.31)" d="M-2.2,0A2.2,2.2 0 1,0 2.2,0A2.2,2.2 0 1,0 -2.2,0Z" fill="#3cbd70" stroke="#3cbd70" stroke-width="0.3"/>
<path transform="translate(481.86,563.70)" d="M-2.2,0A2.2,2.2 0 1,0 2.2,0A2.2,2.2 0 1,0 -2.2,0Z" fill="#3cbd70" stroke="#3cbd70" stroke-width="0.3"/>
<path transform="translate(506.39,574.33)" d="M-2.2,0A2.2,2.2 0 1,0 2.2,0A2.2,2.2 0 1,0 -2.2,0Z" fill="#3cbd70" stroke="#3cbd70" stroke-width="0.3"/>
<path transform="translate(530.92,553.51)" d="M-2.2,0A2.2,2.2 0 1,0 2.2,0A2.2,2.2 0 1,0 -2.2,0Z" fill="#3cbd70" stroke="#3cbd70" stroke-width="0.3"/>
<path transform="translate(555.45,546.42)" d="M-2.2,0A2.2,2.2 0 1,0 2.2,0A2.2,2.2 0 1,0 -2.2,0Z" fill="#3cbd70" stroke="#3cbd70" stroke-width="0.3"/>
<path transform="translate(579.98,563.70)" d="M-2.2,0A2.2,2.2 0 1,0 2.2,0A2.2,2.2 0 1,0 -2.2,0Z" fill="#3cbd70" stroke="#3cbd70" stroke-width="0.3"/>
<path transform="translate(604.51,605.78)" d="M-2.2,0A2.2,2.2 0 1,0 2.2,0A2.2,2.2 0 1,0 -2.2,0Z" fill="#3cbd70" stroke="#3cbd70" stroke-width="0.3"/>
<polyline points="432.80,643.44 457.33,616.86 481.86,575.66 506.39,565.03 530.92,566.80 555.45,549.52 579.98,543.32 604.51,591.61" fill="none" stroke="#21918c" stroke-width="1.15"/>
<path transform="translate(432.80,643.44)" d="M0,-2.53L2.4034999999999997,1.5685999999999998L-2.4034999999999997,1.5685999999999998Z" fill="#21918c" stroke="#21918c" stroke-width="0.3"/>
<path transform="translate(457.33,616.86)" d="M0,-2.53L2.4034999999999997,1.5685999999999998L-2.4034999999999997,1.5685999999999998Z" fill="#21918c" stroke="#21918c" stroke-width="0.3"/>
<path transform="translate(481.86,575.66)" d="M0,-2.53L2.4034999999999997,1.5685999999999998L-2.4034999999999997,1.5685999999999998Z" fill="#21918c" stroke="#21918c" stroke-width="0.3"/>
<path transform="translate(506.39,565.03)" d="M0,-2.53L2.4034999999999997,1.5685999999999998L-2.4034999999999997,1.5685999999999998Z" fill="#21918c" stroke="#21918c" stroke-width="0.3"/>
<path transform="translate(530.92,566.80)" d="M0,-2.53L2.4034999999999997,1.5685999999999998L-2.4034999999999997,1.5685999999999998Z" fill="#21918c" stroke="#21918c" stroke-width="0.3"/>
<path transform="translate(555.45,549.52)" d="M0,-2.53L2.4034999999999997,1.5685999999999998L-2.4034999999999997,1.5685999999999998Z" fill="#21918c" stroke="#21918c" stroke-width="0.3"/>
<path transform="translate(579.98,543.32)" d="M0,-2.53L2.4034999999999997,1.5685999999999998L-2.4034999999999997,1.5685999999999998Z" fill="#21918c" stroke="#21918c" stroke-width="0.3"/>
<path transform="translate(604.51,591.61)" d="M0,-2.53L2.4034999999999997,1.5685999999999998L-2.4034999999999997,1.5685999999999998Z" fill="#21918c" stroke="#21918c" stroke-width="0.3"/>
<polyline points="432.80,651.41 457.33,654.07 481.86,608.44 506.39,588.06 530.92,547.75 555.45,580.98 579.98,597.81 604.51,621.73" fill="none" stroke="#355a8c" stroke-width="1.15"/>
<path transform="translate(432.80,651.41)" d="M0,2.53L2.4034999999999997,-1.5685999999999998L-2.4034999999999997,-1.5685999999999998Z" fill="#355a8c" stroke="#355a8c" stroke-width="0.3"/>
<path transform="translate(457.33,654.07)" d="M0,2.53L2.4034999999999997,-1.5685999999999998L-2.4034999999999997,-1.5685999999999998Z" fill="#355a8c" stroke="#355a8c" stroke-width="0.3"/>
<path transform="translate(481.86,608.44)" d="M0,2.53L2.4034999999999997,-1.5685999999999998L-2.4034999999999997,-1.5685999999999998Z" fill="#355a8c" stroke="#355a8c" stroke-width="0.3"/>
<path transform="translate(506.39,588.06)" d="M0,2.53L2.4034999999999997,-1.5685999999999998L-2.4034999999999997,-1.5685999999999998Z" fill="#355a8c" stroke="#355a8c" stroke-width="0.3"/>
<path transform="translate(530.92,547.75)" d="M0,2.53L2.4034999999999997,-1.5685999999999998L-2.4034999999999997,-1.5685999999999998Z" fill="#355a8c" stroke="#355a8c" stroke-width="0.3"/>
<path transform="translate(555.45,580.98)" d="M0,2.53L2.4034999999999997,-1.5685999999999998L-2.4034999999999997,-1.5685999999999998Z" fill="#355a8c" stroke="#355a8c" stroke-width="0.3"/>
<path transform="translate(579.98,597.81)" d="M0,2.53L2.4034999999999997,-1.5685999999999998L-2.4034999999999997,-1.5685999999999998Z" fill="#355a8c" stroke="#355a8c" stroke-width="0.3"/>
<path transform="translate(604.51,621.73)" d="M0,2.53L2.4034999999999997,-1.5685999999999998L-2.4034999999999997,-1.5685999999999998Z" fill="#355a8c" stroke="#355a8c" stroke-width="0.3"/>
<polyline points="432.80,661.60 457.33,659.83 481.86,637.68 506.39,614.20 530.92,611.10 555.45,600.47 579.98,608.00 604.51,650.97" fill="none" stroke="#482876" stroke-width="1.15"/>
<path transform="translate(432.80,661.60)" d="M0,-2.64L2.244,0L0,2.64L-2.244,0Z" fill="#482876" stroke="#482876" stroke-width="0.3"/>
<path transform="translate(457.33,659.83)" d="M0,-2.64L2.244,0L0,2.64L-2.244,0Z" fill="#482876" stroke="#482876" stroke-width="0.3"/>
<path transform="translate(481.86,637.68)" d="M0,-2.64L2.244,0L0,2.64L-2.244,0Z" fill="#482876" stroke="#482876" stroke-width="0.3"/>
<path transform="translate(506.39,614.20)" d="M0,-2.64L2.244,0L0,2.64L-2.244,0Z" fill="#482876" stroke="#482876" stroke-width="0.3"/>
<path transform="translate(530.92,611.10)" d="M0,-2.64L2.244,0L0,2.64L-2.244,0Z" fill="#482876" stroke="#482876" stroke-width="0.3"/>
<path transform="translate(555.45,600.47)" d="M0,-2.64L2.244,0L0,2.64L-2.244,0Z" fill="#482876" stroke="#482876" stroke-width="0.3"/>
<path transform="translate(579.98,608.00)" d="M0,-2.64L2.244,0L0,2.64L-2.244,0Z" fill="#482876" stroke="#482876" stroke-width="0.3"/>
<path transform="translate(604.51,650.97)" d="M0,-2.64L2.244,0L0,2.64L-2.244,0Z" fill="#482876" stroke="#482876" stroke-width="0.3"/>
<rect x="408.5" y="522.6" width="221.10000000000002" height="177.10000000000002" fill="none" stroke="#444" stroke-width="1.2"/>
<path d="M408.5,699.70H411.9" stroke="#444" stroke-width="1.08"/>
<text x="405.00" y="702.45" text-anchor="end">0</text>
<path d="M408.5,677.55H411.9" stroke="#444" stroke-width="1.08"/>
<text x="405.00" y="680.30" text-anchor="end">5</text>
<path d="M408.5,655.40H411.9" stroke="#444" stroke-width="1.08"/>
<text x="405.00" y="658.15" text-anchor="end">10</text>
<path d="M408.5,633.25H411.9" stroke="#444" stroke-width="1.08"/>
<text x="405.00" y="636.00" text-anchor="end">15</text>
<path d="M408.5,611.10H411.9" stroke="#444" stroke-width="1.08"/>
<text x="405.00" y="613.85" text-anchor="end">20</text>
<path d="M408.5,588.95H411.9" stroke="#444" stroke-width="1.08"/>
<text x="405.00" y="591.70" text-anchor="end">25</text>
<path d="M408.5,566.80H411.9" stroke="#444" stroke-width="1.08"/>
<text x="405.00" y="569.55" text-anchor="end">30</text>
<path d="M408.5,544.65H411.9" stroke="#444" stroke-width="1.08"/>
<text x="405.00" y="547.40" text-anchor="end">35</text>
<path d="M408.5,522.50H411.9" stroke="#444" stroke-width="1.08"/>
<text x="405.00" y="525.25" text-anchor="end">40</text>
<path d="M408.5,688.62H410.54" stroke="#444" stroke-width="0.96"/>
<path d="M408.5,666.48H410.54" stroke="#444" stroke-width="0.96"/>
<path d="M408.5,644.33H410.54" stroke="#444" stroke-width="0.96"/>
<path d="M408.5,622.18H410.54" stroke="#444" stroke-width="0.96"/>
<path d="M408.5,600.03H410.54" stroke="#444" stroke-width="0.96"/>
<path d="M408.5,577.88H410.54" stroke="#444" stroke-width="0.96"/>
<path d="M408.5,555.73H410.54" stroke="#444" stroke-width="0.96"/>
<path d="M408.5,533.58H410.54" stroke="#444" stroke-width="0.96"/>
<path d="M432.80,699.7V696.3000000000001" stroke="#444" stroke-width="1.08"/>
<text x="432.80" y="709.20" text-anchor="middle">4d</text>
<path d="M457.33,699.7V696.3000000000001" stroke="#444" stroke-width="1.08"/>
<text x="457.33" y="709.20" text-anchor="middle">8d</text>
<path d="M481.86,699.7V696.3000000000001" stroke="#444" stroke-width="1.08"/>
<text x="481.86" y="709.20" text-anchor="middle">12d</text>
<path d="M506.39,699.7V696.3000000000001" stroke="#444" stroke-width="1.08"/>
<text x="506.39" y="709.20" text-anchor="middle">16d</text>
<path d="M530.92,699.7V696.3000000000001" stroke="#444" stroke-width="1.08"/>
<text x="530.92" y="709.20" text-anchor="middle">20d</text>
<path d="M555.45,699.7V696.3000000000001" stroke="#444" stroke-width="1.08"/>
<text x="555.45" y="709.20" text-anchor="middle">24d</text>
<path d="M579.98,699.7V696.3000000000001" stroke="#444" stroke-width="1.08"/>
<text x="579.98" y="709.20" text-anchor="middle">28d</text>
<path d="M604.51,699.7V696.3000000000001" stroke="#444" stroke-width="1.08"/>
<text x="604.51" y="709.20" text-anchor="middle">32d</text>
<text x="519" y="725" text-anchor="middle">Time</text>
<text transform="translate(389,611.2) rotate(-90)" text-anchor="middle" font-size="7.65">Number of Black Spots</text>
<text x="346.8" y="521.8" font-size="25.5">(f)</text>
<path d="M630.8,526.80H648" stroke="#bddf26" stroke-width="1.2"/>
<path transform="translate(639.40,526.80)" d="M-2.2,-2.2H2.2V2.2H-2.2Z" fill="#bddf26" stroke="#bddf26" stroke-width="0.3"/>
<text x="649.7" y="529.32">0g/kg</text>
<path d="M630.8,536.25H648" stroke="#3cbd70" stroke-width="1.15"/>
<path transform="translate(639.40,536.25)" d="M-2.2,0A2.2,2.2 0 1,0 2.2,0A2.2,2.2 0 1,0 -2.2,0Z" fill="#3cbd70" stroke="#3cbd70" stroke-width="0.3"/>
<text x="649.7" y="538.77">0.204g/kg</text>
<path d="M630.8,545.70H648" stroke="#21918c" stroke-width="1.15"/>
<path transform="translate(639.40,545.70)" d="M0,-2.53L2.4034999999999997,1.5685999999999998L-2.4034999999999997,1.5685999999999998Z" fill="#21918c" stroke="#21918c" stroke-width="0.3"/>
<text x="649.7" y="548.22">0.408g/kg</text>
<path d="M630.8,555.15H648" stroke="#355a8c" stroke-width="1.15"/>
<path transform="translate(639.40,555.15)" d="M0,2.53L2.4034999999999997,-1.5685999999999998L-2.4034999999999997,-1.5685999999999998Z" fill="#355a8c" stroke="#355a8c" stroke-width="0.3"/>
<text x="649.7" y="557.67">0.816g/kg</text>
<path d="M630.8,564.60H648" stroke="#482876" stroke-width="1.15"/>
<path transform="translate(639.40,564.60)" d="M0,-2.64L2.244,0L0,2.64L-2.244,0Z" fill="#482876" stroke="#482876" stroke-width="0.3"/>
<text x="649.7" y="567.12">1.632g/kg</text></g>
</svg>
</body></html>
